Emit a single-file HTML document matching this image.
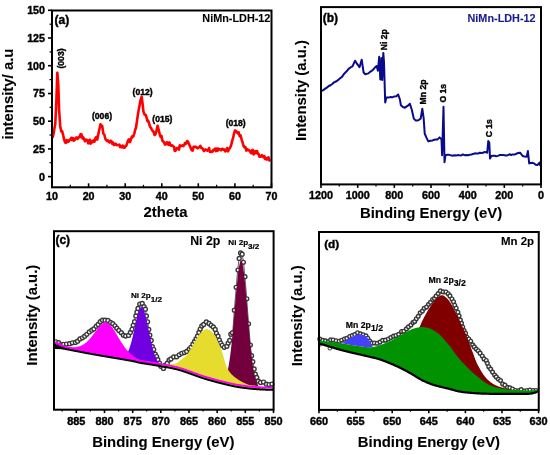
<!DOCTYPE html>
<html><head><meta charset="utf-8"><style>
html,body{margin:0;padding:0;background:#fff;}
svg{display:block;will-change:transform;}
text{font-family:"Liberation Sans",sans-serif;stroke:#000;stroke-width:0.4px;}
text.b{stroke:#1c1c8e;}
text.t{stroke-width:0.1px;}
text.s{stroke-width:0.2px;}
text.b.t{stroke:#1c1c8e;}
</style></head><body>
<svg width="550" height="455" viewBox="0 0 550 455">
<rect width="550" height="455" fill="#fff"/>
<path d="M52.50,137.90 L53.60,133.50 L54.45,128.39 L55.30,123.70 L56.40,100.00 L57.30,72.70 L58.30,85.00 L59.10,110.00 L60.20,125.90 L61.30,131.40 L62.10,131.14 L62.90,134.10 L64.00,139.00 L65.10,142.30 L65.92,142.84 L66.75,140.03 L67.58,142.02 L68.40,141.70 L69.45,139.98 L70.50,139.50 L71.33,137.74 L72.15,140.08 L72.97,138.20 L73.80,140.60 L74.75,139.89 L75.70,137.82 L76.65,137.52 L77.60,139.00 L78.60,137.02 L79.60,137.24 L80.60,134.10 L81.55,134.52 L82.50,138.40 L83.33,137.40 L84.15,139.54 L84.97,141.28 L85.80,139.50 L86.62,140.40 L87.45,140.12 L88.27,143.34 L89.10,141.70 L89.90,139.76 L90.70,143.65 L91.50,141.18 L92.30,142.30 L93.40,140.36 L94.50,141.70 L95.60,137.70 L96.45,136.89 L97.30,139.60 L98.10,135.27 L98.90,131.40 L100.50,124.30 L101.35,126.55 L102.20,125.90 L103.30,133.50 L104.35,134.78 L105.40,139.00 L106.23,140.05 L107.05,140.99 L107.88,140.44 L108.70,141.70 L109.60,142.44 L110.50,140.74 L111.40,141.25 L112.30,143.80 L113.18,142.65 L114.07,145.03 L114.95,144.07 L115.83,143.75 L116.72,145.19 L117.60,145.00 L118.45,145.03 L119.30,144.58 L120.15,147.10 L121.00,146.00 L121.90,147.34 L122.80,145.67 L123.70,147.62 L124.60,147.70 L125.45,146.04 L126.30,145.88 L127.15,143.43 L128.00,140.60 L129.00,139.26 L130.00,142.08 L131.00,139.50 L131.80,136.64 L132.60,136.92 L133.40,136.20 L134.27,133.61 L135.13,129.98 L136.00,127.50 L136.90,121.62 L137.80,115.21 L138.70,109.90 L139.50,105.65 L140.30,101.00 L141.70,96.70 L142.60,104.00 L143.40,111.60 L144.55,114.52 L145.70,115.00 L146.57,117.59 L147.45,121.23 L148.32,120.89 L149.20,124.00 L150.07,126.65 L150.95,127.93 L151.82,129.62 L152.70,131.00 L153.60,131.97 L154.50,134.90 L155.40,134.50 L156.50,130.63 L157.60,125.70 L158.70,130.07 L159.80,134.50 L160.68,137.01 L161.55,135.98 L162.43,140.68 L163.30,141.50 L164.18,142.61 L165.05,144.64 L165.93,144.29 L166.80,142.26 L167.68,143.16 L168.55,144.90 L169.43,142.37 L170.30,145.00 L171.20,145.76 L172.10,145.34 L173.00,146.04 L173.90,146.70 L174.80,150.90 L175.70,150.60 L176.53,148.21 L177.36,148.07 L178.19,148.04 L179.01,149.57 L179.84,145.24 L180.67,146.25 L181.50,145.80 L182.38,145.33 L183.25,146.16 L184.12,145.17 L185.00,143.00 L186.10,143.67 L187.20,141.00 L188.15,141.91 L189.10,144.46 L190.05,146.13 L191.00,148.70 L191.84,150.36 L192.69,150.58 L193.53,146.76 L194.38,146.77 L195.22,146.91 L196.07,146.81 L196.91,147.85 L197.76,148.22 L198.60,147.70 L199.47,146.82 L200.35,145.84 L201.22,147.95 L202.09,147.93 L202.96,149.05 L203.84,151.04 L204.71,150.04 L205.58,149.44 L206.45,150.12 L207.33,150.60 L208.20,150.00 L209.06,148.00 L209.93,151.95 L210.79,151.45 L211.65,151.94 L212.52,151.64 L213.38,149.83 L214.25,149.92 L215.11,148.61 L215.97,151.11 L216.84,148.53 L217.70,150.60 L218.54,148.71 L219.39,149.46 L220.23,149.35 L221.08,150.26 L221.92,149.04 L222.77,148.90 L223.61,149.70 L224.46,149.57 L225.30,151.50 L226.23,150.25 L227.15,148.07 L228.07,151.35 L229.00,149.00 L230.00,147.92 L231.00,145.80 L232.00,141.58 L233.00,138.20 L233.95,134.05 L234.90,130.50 L235.83,130.76 L236.77,131.81 L237.70,133.40 L238.67,132.30 L239.63,136.27 L240.60,135.30 L241.57,139.39 L242.53,142.26 L243.50,145.80 L244.43,147.33 L245.37,147.10 L246.30,150.60 L247.28,149.00 L248.25,150.33 L249.22,150.19 L250.20,151.50 L251.04,153.22 L251.89,150.36 L252.73,149.94 L253.58,154.42 L254.42,152.69 L255.27,151.14 L256.11,153.18 L256.96,151.01 L257.80,153.40 L258.61,154.09 L259.43,156.72 L260.24,156.74 L261.06,156.53 L261.87,155.09 L262.69,156.13 L263.50,157.30 L264.34,156.01 L265.18,159.03 L266.01,158.16 L266.85,159.53 L267.69,157.70 L268.52,157.45 L269.36,160.40 L270.20,159.20" fill="none" stroke="#ff0000" stroke-width="2.6" stroke-linejoin="round"/>
<rect x="52.0" y="10.5" width="219.5" height="176.8" fill="none" stroke="#000" stroke-width="2"/>
<line x1="48.0" y1="176.6" x2="52.0" y2="176.6" stroke="#000" stroke-width="1.6"/>
<text x="45" y="180.5" font-size="10.7" text-anchor="end" font-family="Liberation Sans, sans-serif" font-weight="bold">0</text>
<line x1="48.0" y1="148.9" x2="52.0" y2="148.9" stroke="#000" stroke-width="1.6"/>
<text x="45" y="152.8" font-size="10.7" text-anchor="end" font-family="Liberation Sans, sans-serif" font-weight="bold">25</text>
<line x1="48.0" y1="121.2" x2="52.0" y2="121.2" stroke="#000" stroke-width="1.6"/>
<text x="45" y="125.1" font-size="10.7" text-anchor="end" font-family="Liberation Sans, sans-serif" font-weight="bold">50</text>
<line x1="48.0" y1="93.5" x2="52.0" y2="93.5" stroke="#000" stroke-width="1.6"/>
<text x="45" y="97.4" font-size="10.7" text-anchor="end" font-family="Liberation Sans, sans-serif" font-weight="bold">75</text>
<line x1="48.0" y1="65.7" x2="52.0" y2="65.7" stroke="#000" stroke-width="1.6"/>
<text x="45" y="69.6" font-size="10.7" text-anchor="end" font-family="Liberation Sans, sans-serif" font-weight="bold">100</text>
<line x1="48.0" y1="38.0" x2="52.0" y2="38.0" stroke="#000" stroke-width="1.6"/>
<text x="45" y="41.9" font-size="10.7" text-anchor="end" font-family="Liberation Sans, sans-serif" font-weight="bold">125</text>
<line x1="48.0" y1="10.3" x2="52.0" y2="10.3" stroke="#000" stroke-width="1.6"/>
<text x="45" y="14.2" font-size="10.7" text-anchor="end" font-family="Liberation Sans, sans-serif" font-weight="bold">150</text>
<line x1="49.5" y1="162.7" x2="52.0" y2="162.7" stroke="#000" stroke-width="1.2"/>
<line x1="49.5" y1="135.0" x2="52.0" y2="135.0" stroke="#000" stroke-width="1.2"/>
<line x1="49.5" y1="107.3" x2="52.0" y2="107.3" stroke="#000" stroke-width="1.2"/>
<line x1="49.5" y1="79.6" x2="52.0" y2="79.6" stroke="#000" stroke-width="1.2"/>
<line x1="49.5" y1="51.9" x2="52.0" y2="51.9" stroke="#000" stroke-width="1.2"/>
<line x1="49.5" y1="24.2" x2="52.0" y2="24.2" stroke="#000" stroke-width="1.2"/>
<line x1="52.0" y1="187.3" x2="52.0" y2="183.3" stroke="#000" stroke-width="1.6"/>
<text x="52.0" y="200.4" font-size="10.7" text-anchor="middle" font-family="Liberation Sans, sans-serif" font-weight="bold">10</text>
<line x1="88.6" y1="187.3" x2="88.6" y2="183.3" stroke="#000" stroke-width="1.6"/>
<text x="88.6" y="200.4" font-size="10.7" text-anchor="middle" font-family="Liberation Sans, sans-serif" font-weight="bold">20</text>
<line x1="125.2" y1="187.3" x2="125.2" y2="183.3" stroke="#000" stroke-width="1.6"/>
<text x="125.2" y="200.4" font-size="10.7" text-anchor="middle" font-family="Liberation Sans, sans-serif" font-weight="bold">30</text>
<line x1="161.8" y1="187.3" x2="161.8" y2="183.3" stroke="#000" stroke-width="1.6"/>
<text x="161.8" y="200.4" font-size="10.7" text-anchor="middle" font-family="Liberation Sans, sans-serif" font-weight="bold">40</text>
<line x1="198.3" y1="187.3" x2="198.3" y2="183.3" stroke="#000" stroke-width="1.6"/>
<text x="198.3" y="200.4" font-size="10.7" text-anchor="middle" font-family="Liberation Sans, sans-serif" font-weight="bold">50</text>
<line x1="234.9" y1="187.3" x2="234.9" y2="183.3" stroke="#000" stroke-width="1.6"/>
<text x="234.9" y="200.4" font-size="10.7" text-anchor="middle" font-family="Liberation Sans, sans-serif" font-weight="bold">60</text>
<line x1="271.5" y1="187.3" x2="271.5" y2="183.3" stroke="#000" stroke-width="1.6"/>
<text x="271.5" y="200.4" font-size="10.7" text-anchor="middle" font-family="Liberation Sans, sans-serif" font-weight="bold">70</text>
<line x1="70.3" y1="187.3" x2="70.3" y2="184.8" stroke="#000" stroke-width="1.2"/>
<line x1="106.9" y1="187.3" x2="106.9" y2="184.8" stroke="#000" stroke-width="1.2"/>
<line x1="143.5" y1="187.3" x2="143.5" y2="184.8" stroke="#000" stroke-width="1.2"/>
<line x1="180.0" y1="187.3" x2="180.0" y2="184.8" stroke="#000" stroke-width="1.2"/>
<line x1="216.6" y1="187.3" x2="216.6" y2="184.8" stroke="#000" stroke-width="1.2"/>
<line x1="253.2" y1="187.3" x2="253.2" y2="184.8" stroke="#000" stroke-width="1.2"/>
<text x="165.5" y="216.9" font-size="14.9" class="t" text-anchor="middle" font-family="Liberation Sans, sans-serif" font-weight="bold">2theta</text>
<text transform="translate(13.2,94.1) rotate(-90)" font-size="14.9" class="t" text-anchor="middle" font-family="Liberation Sans, sans-serif" font-weight="bold">intensity/ a.u</text>
<text x="54.6" y="23.6" font-size="12" font-family="Liberation Sans, sans-serif" font-weight="bold">(a)</text>
<text x="270.4" y="21.7" font-size="10.85" text-anchor="end" class="t" font-family="Liberation Sans, sans-serif" font-weight="bold">NiMn-LDH-12</text>
<text transform="translate(64.3,58.5) rotate(-90)" font-size="8.6" text-anchor="middle" font-family="Liberation Sans, sans-serif" font-weight="bold">(003)</text>
<text x="102" y="118.6" font-size="8.6" text-anchor="middle" font-family="Liberation Sans, sans-serif" font-weight="bold">(006)</text>
<text x="142.6" y="94.6" font-size="8.6" text-anchor="middle" font-family="Liberation Sans, sans-serif" font-weight="bold">(012)</text>
<text x="162.4" y="121.8" font-size="8.6" text-anchor="middle" font-family="Liberation Sans, sans-serif" font-weight="bold">(015)</text>
<text x="235.7" y="126.3" font-size="8.6" text-anchor="middle" font-family="Liberation Sans, sans-serif" font-weight="bold">(018)</text>
<path d="M321.00,91.00 L322.95,90.33 L324.90,88.92 L326.85,87.62 L328.80,86.00 L330.56,85.26 L332.32,84.05 L334.08,82.31 L335.84,81.54 L337.60,80.40 L339.80,78.48 L342.00,76.90 L344.20,73.68 L346.40,71.60 L348.60,68.83 L350.80,67.20 L352.50,66.40 L355.10,60.70 L356.90,63.70 L359.50,67.20 L361.70,59.70 L363.60,72.50 L365.30,74.30 L368.30,73.40 L370.50,71.54 L372.70,70.20 L374.65,67.81 L376.60,66.00 L377.90,70.70 L379.20,56.80 L380.30,79.50 L381.50,58.00 L382.20,80.00 L383.30,52.90 L384.00,62.00 L385.20,102.40 L386.40,97.60 L388.35,97.58 L390.30,97.10 L392.33,97.35 L394.37,96.44 L396.40,96.20 L398.20,94.50 L400.00,99.80 L400.90,105.30 L402.90,107.02 L404.90,107.70 L407.90,105.70 L409.90,103.80 L411.80,109.70 L413.80,118.60 L415.80,120.60 L417.43,120.52 L419.07,119.81 L420.70,118.60 L422.30,108.70 L423.70,118.60 L424.70,133.50 L426.30,137.40 L428.30,141.40 L430.45,140.74 L432.60,140.40 L434.27,139.73 L435.93,139.41 L437.60,139.40 L439.60,137.40 L441.50,139.40 L442.10,155.20 L443.50,106.70 L444.50,162.20 L445.50,155.20 L447.28,154.84 L449.06,154.85 L450.84,155.35 L452.62,155.68 L454.40,155.20 L456.10,155.57 L457.80,155.09 L459.50,155.26 L461.20,155.39 L462.90,154.49 L464.60,155.14 L466.30,154.90 L468.00,155.16 L469.70,154.77 L471.40,154.50 L473.10,153.94 L474.80,153.35 L476.50,153.50 L478.14,153.53 L479.78,152.66 L481.42,152.90 L483.06,152.79 L484.70,151.90 L487.20,152.70 L488.30,140.90 L489.30,142.80 L490.00,158.50 L491.30,156.00 L492.95,155.78 L494.60,155.68 L496.25,156.24 L497.90,155.87 L499.55,155.10 L501.20,154.95 L502.85,154.88 L504.50,155.20 L506.14,155.53 L507.78,155.25 L509.42,154.30 L511.06,154.95 L512.70,154.40 L514.55,154.55 L516.40,153.74 L518.25,152.95 L520.10,152.70 L522.60,156.00 L524.65,156.46 L526.70,156.80 L527.90,151.10 L529.20,163.40 L530.83,162.96 L532.47,162.82 L534.10,163.40 L535.75,164.77 L537.40,165.00 L539.60,162.60 L540.40,165.90" fill="none" stroke="#0a0a8c" stroke-width="2.0" stroke-linejoin="round"/>
<rect x="321.0" y="7.1" width="220.0" height="177.3" fill="none" stroke="#000" stroke-width="2"/>
<line x1="541.0" y1="184.4" x2="541.0" y2="187.9" stroke="#000" stroke-width="1.6"/>
<text x="541.0" y="199.1" font-size="10.8" text-anchor="middle" font-family="Liberation Sans, sans-serif" font-weight="bold">0</text>
<line x1="504.3" y1="184.4" x2="504.3" y2="187.9" stroke="#000" stroke-width="1.6"/>
<text x="504.3" y="199.1" font-size="10.8" text-anchor="middle" font-family="Liberation Sans, sans-serif" font-weight="bold">200</text>
<line x1="467.7" y1="184.4" x2="467.7" y2="187.9" stroke="#000" stroke-width="1.6"/>
<text x="467.7" y="199.1" font-size="10.8" text-anchor="middle" font-family="Liberation Sans, sans-serif" font-weight="bold">400</text>
<line x1="431.0" y1="184.4" x2="431.0" y2="187.9" stroke="#000" stroke-width="1.6"/>
<text x="431.0" y="199.1" font-size="10.8" text-anchor="middle" font-family="Liberation Sans, sans-serif" font-weight="bold">600</text>
<line x1="394.3" y1="184.4" x2="394.3" y2="187.9" stroke="#000" stroke-width="1.6"/>
<text x="394.3" y="199.1" font-size="10.8" text-anchor="middle" font-family="Liberation Sans, sans-serif" font-weight="bold">800</text>
<line x1="357.7" y1="184.4" x2="357.7" y2="187.9" stroke="#000" stroke-width="1.6"/>
<text x="357.7" y="199.1" font-size="10.8" text-anchor="middle" font-family="Liberation Sans, sans-serif" font-weight="bold">1000</text>
<line x1="321.0" y1="184.4" x2="321.0" y2="187.9" stroke="#000" stroke-width="1.6"/>
<text x="321.0" y="199.1" font-size="10.8" text-anchor="middle" font-family="Liberation Sans, sans-serif" font-weight="bold">1200</text>
<line x1="522.7" y1="184.4" x2="522.7" y2="186.4" stroke="#000" stroke-width="1.2"/>
<line x1="486.0" y1="184.4" x2="486.0" y2="186.4" stroke="#000" stroke-width="1.2"/>
<line x1="449.3" y1="184.4" x2="449.3" y2="186.4" stroke="#000" stroke-width="1.2"/>
<line x1="412.7" y1="184.4" x2="412.7" y2="186.4" stroke="#000" stroke-width="1.2"/>
<line x1="376.0" y1="184.4" x2="376.0" y2="186.4" stroke="#000" stroke-width="1.2"/>
<line x1="339.3" y1="184.4" x2="339.3" y2="186.4" stroke="#000" stroke-width="1.2"/>
<text x="431.1" y="217.5" font-size="14.9" class="t" text-anchor="middle" font-family="Liberation Sans, sans-serif" font-weight="bold">Binding Energy (eV)</text>
<text transform="translate(305.8,90.6) rotate(-90)" font-size="14.9" class="t" text-anchor="middle" font-family="Liberation Sans, sans-serif" font-weight="bold">Intensity (a.u.)</text>
<text x="322.7" y="21.6" font-size="12" font-family="Liberation Sans, sans-serif" font-weight="bold">(b)</text>
<text x="535.6" y="22" font-size="10.85" text-anchor="end" fill="#1c1c8e" class="b t" font-family="Liberation Sans, sans-serif" font-weight="bold">NiMn-LDH-12</text>
<text transform="translate(387.2,39.8) rotate(-90)" font-size="8.6" text-anchor="middle" font-family="Liberation Sans, sans-serif" font-weight="bold">Ni 2p</text>
<text transform="translate(426.0,92) rotate(-90)" font-size="8.6" text-anchor="middle" font-family="Liberation Sans, sans-serif" font-weight="bold">Mn 2p</text>
<text transform="translate(445.5,93.2) rotate(-90)" font-size="8.6" text-anchor="middle" font-family="Liberation Sans, sans-serif" font-weight="bold">O 1s</text>
<text transform="translate(491.9,128.2) rotate(-90)" font-size="8.6" text-anchor="middle" font-family="Liberation Sans, sans-serif" font-weight="bold">C 1s</text>
<path d="M55.80,341.80 L56.19,341.92 L56.73,342.09 L57.37,342.30 L58.06,342.56 L58.64,342.81 L59.13,343.09 L59.64,343.41 L60.17,343.74 L60.73,344.05 L61.30,344.31 L61.90,344.50 L62.45,344.60 L63.02,344.65 L63.61,344.67 L64.22,344.66 L64.84,344.63 L65.48,344.58 L66.13,344.52 L66.73,344.46 L67.32,344.38 L67.93,344.30 L68.56,344.20 L69.19,344.09 L69.81,343.97 L70.43,343.85 L71.03,343.73 L71.60,343.60 L72.24,343.46 L72.86,343.33 L73.47,343.19 L74.06,343.04 L74.63,342.87 L75.19,342.68 L75.73,342.44 L76.26,342.15 L76.76,341.79 L77.23,341.39 L77.69,340.95 L78.14,340.50 L78.59,340.07 L79.04,339.66 L79.50,339.30 L80.04,338.95 L80.58,338.66 L81.12,338.39 L81.65,338.13 L82.19,337.86 L82.73,337.57 L83.24,337.24 L83.72,336.91 L84.21,336.55 L84.69,336.18 L85.17,335.81 L85.66,335.44 L86.14,335.07 L86.63,334.71 L87.14,334.35 L87.65,333.99 L88.17,333.64 L88.68,333.28 L89.18,332.93 L89.66,332.57 L90.13,332.19 L90.60,331.78 L91.04,331.36 L91.45,330.94 L91.88,330.51 L92.33,330.05 L92.80,329.61 L93.22,329.22 L93.66,328.83 L94.11,328.43 L94.57,328.01 L95.04,327.59 L95.51,327.16 L95.97,326.72 L96.41,326.29 L96.84,325.84 L97.26,325.38 L97.68,324.91 L98.11,324.44 L98.53,323.97 L98.96,323.52 L99.38,323.10 L99.82,322.69 L100.30,322.26 L100.79,321.84 L101.27,321.43 L101.75,321.06 L102.23,320.72 L102.72,320.43 L103.20,320.20 L103.80,319.98 L104.41,319.84 L105.01,319.76 L105.61,319.76 L106.23,319.81 L106.83,319.93 L107.37,320.10 L107.92,320.32 L108.47,320.59 L109.03,320.89 L109.58,321.22 L110.11,321.55 L110.63,321.88 L111.11,322.20 L111.58,322.53 L112.03,322.87 L112.48,323.24 L112.94,323.64 L113.42,324.11 L113.89,324.59 L114.24,325.01 L114.62,325.47 L115.00,325.97 L115.39,326.49 L115.78,327.03 L116.17,327.56 L116.55,328.08 L116.93,328.57 L117.28,329.02 L117.62,329.41 L118.10,329.91 L118.60,330.36 L119.06,330.71 L119.50,331.03 L119.94,331.34 L120.38,331.70 L120.84,332.11 L121.30,332.56 L121.76,333.03 L122.22,333.49 L122.66,333.93 L123.09,334.32 L123.58,334.73 L124.09,335.18 L124.58,335.57 L125.08,335.86 L125.60,336.00 L126.16,335.97 L126.75,335.78 L127.34,335.50 L127.92,335.17 L128.44,334.85 L128.92,334.55 L129.38,334.22 L129.83,333.82 L130.28,333.31 L130.63,332.80 L130.90,332.37 L131.16,331.90 L131.42,331.40 L131.68,330.86 L131.93,330.28 L132.18,329.66 L132.42,329.01 L132.64,328.38 L132.80,327.87 L132.96,327.33 L133.11,326.77 L133.27,326.18 L133.42,325.57 L133.57,324.96 L133.72,324.34 L133.86,323.72 L134.01,323.11 L134.15,322.51 L134.29,321.92 L134.44,321.35 L134.60,320.73 L134.75,320.12 L134.90,319.52 L135.05,318.93 L135.19,318.34 L135.34,317.75 L135.49,317.17 L135.63,316.60 L135.78,316.04 L135.93,315.48 L136.08,314.89 L136.25,314.27 L136.42,313.65 L136.59,313.04 L136.76,312.44 L136.93,311.85 L137.09,311.27 L137.26,310.70 L137.43,310.14 L137.60,309.60 L137.80,308.96 L137.99,308.31 L138.17,307.67 L138.36,307.05 L138.56,306.46 L138.76,305.92 L138.97,305.42 L139.20,305.00 L139.65,304.38 L140.14,303.91 L140.65,303.59 L141.16,303.42 L141.66,303.43 L142.17,303.64 L142.68,304.02 L143.17,304.54 L143.57,305.10 L143.82,305.53 L144.05,306.01 L144.27,306.53 L144.49,307.11 L144.69,307.74 L144.90,308.43 L145.06,309.04 L145.19,309.55 L145.31,310.09 L145.43,310.65 L145.55,311.23 L145.67,311.84 L145.79,312.46 L145.91,313.09 L146.02,313.74 L146.15,314.39 L146.27,315.04 L146.38,315.62 L146.49,316.18 L146.60,316.76 L146.70,317.34 L146.81,317.94 L146.92,318.54 L147.04,319.15 L147.15,319.76 L147.26,320.37 L147.37,320.98 L147.48,321.59 L147.59,322.20 L147.70,322.80 L147.81,323.39 L147.91,323.98 L148.02,324.57 L148.13,325.17 L148.23,325.76 L148.34,326.36 L148.45,326.95 L148.55,327.55 L148.66,328.14 L148.77,328.73 L148.88,329.33 L148.99,329.91 L149.10,330.50 L149.22,331.11 L149.33,331.71 L149.45,332.31 L149.57,332.91 L149.69,333.50 L149.81,334.10 L149.93,334.70 L150.05,335.29 L150.17,335.89 L150.29,336.49 L150.41,337.09 L150.54,337.70 L150.66,338.29 L150.78,338.89 L150.89,339.48 L151.01,340.09 L151.12,340.69 L151.23,341.30 L151.35,341.91 L151.47,342.51 L151.59,343.11 L151.72,343.70 L151.85,344.29 L151.98,344.86 L152.13,345.42 L152.29,346.01 L152.46,346.62 L152.65,347.22 L152.84,347.81 L153.04,348.39 L153.24,348.96 L153.45,349.52 L153.66,350.08 L153.87,350.64 L154.08,351.20 L154.29,351.75 L154.50,352.30 L154.72,352.89 L154.95,353.48 L155.18,354.06 L155.42,354.64 L155.65,355.22 L155.88,355.79 L156.12,356.35 L156.36,356.91 L156.59,357.46 L156.83,358.00 L157.06,358.55 L157.32,359.13 L157.59,359.71 L157.85,360.29 L158.11,360.86 L158.37,361.42 L158.63,361.96 L158.89,362.49 L159.14,362.99 L159.38,363.47 L159.67,364.02 L159.99,364.66 L160.29,365.26 L160.59,365.82 L160.89,366.33 L161.20,366.77 L161.52,367.12 L162.02,367.53 L162.60,367.83 L163.20,367.91 L163.84,367.70 L164.24,367.40 L164.56,367.04 L164.89,366.59 L165.23,366.07 L165.57,365.51 L165.93,364.93 L166.31,364.34 L166.70,363.77 L167.07,363.27 L167.43,362.80 L167.81,362.29 L168.20,361.77 L168.59,361.25 L169.00,360.73 L169.40,360.23 L169.81,359.76 L170.21,359.34 L170.61,358.96 L171.08,358.59 L171.65,358.25 L172.21,358.01 L172.77,357.83 L173.33,357.68 L173.89,357.53 L174.46,357.35 L175.03,357.14 L175.59,356.94 L176.15,356.74 L176.71,356.54 L177.29,356.33 L177.88,356.08 L178.50,355.80 L179.00,355.55 L179.52,355.27 L180.06,354.97 L180.60,354.65 L181.15,354.33 L181.69,354.01 L182.22,353.70 L182.73,353.41 L183.25,353.12 L183.83,352.83 L184.38,352.57 L184.91,352.32 L185.44,352.07 L185.96,351.80 L186.49,351.48 L187.01,351.12 L187.45,350.78 L187.90,350.43 L188.35,350.05 L188.79,349.66 L189.24,349.24 L189.69,348.80 L190.14,348.34 L190.58,347.85 L190.98,347.39 L191.34,346.96 L191.71,346.51 L192.07,346.05 L192.43,345.58 L192.80,345.09 L193.15,344.58 L193.51,344.07 L193.85,343.54 L194.19,342.99 L194.52,342.44 L194.81,341.92 L195.08,341.41 L195.34,340.88 L195.60,340.34 L195.85,339.78 L196.10,339.22 L196.35,338.65 L196.59,338.08 L196.83,337.50 L197.08,336.93 L197.33,336.35 L197.57,335.78 L197.82,335.23 L198.07,334.67 L198.31,334.10 L198.55,333.52 L198.80,332.94 L199.04,332.35 L199.29,331.77 L199.53,331.20 L199.77,330.64 L200.02,330.10 L200.26,329.58 L200.50,329.08 L200.74,328.61 L201.07,328.01 L201.41,327.40 L201.75,326.83 L202.08,326.29 L202.42,325.79 L202.77,325.33 L203.13,324.89 L203.50,324.49 L203.92,324.09 L204.42,323.66 L204.95,323.25 L205.49,322.88 L206.05,322.57 L206.61,322.34 L207.16,322.21 L207.70,322.20 L208.20,322.32 L208.71,322.56 L209.21,322.89 L209.71,323.29 L210.21,323.74 L210.69,324.21 L211.16,324.67 L211.61,325.10 L212.03,325.52 L212.45,325.95 L212.85,326.39 L213.24,326.85 L213.62,327.34 L213.99,327.84 L214.34,328.38 L214.67,328.92 L214.93,329.41 L215.19,329.94 L215.43,330.48 L215.66,331.04 L215.88,331.62 L216.11,332.20 L216.33,332.78 L216.55,333.35 L216.78,333.92 L217.02,334.48 L217.25,335.03 L217.49,335.58 L217.73,336.14 L217.96,336.69 L218.20,337.25 L218.43,337.80 L218.67,338.35 L218.91,338.91 L219.14,339.46 L219.37,340.02 L219.60,340.60 L219.83,341.19 L220.05,341.78 L220.27,342.37 L220.50,342.95 L220.73,343.51 L220.98,344.04 L221.23,344.54 L221.50,345.00 L221.89,345.58 L222.32,346.15 L222.77,346.68 L223.22,347.16 L223.67,347.56 L224.10,347.87 L224.51,348.07 L225.03,348.15 L225.55,347.99 L226.04,347.61 L226.53,347.04 L226.96,346.41 L227.21,346.00 L227.46,345.53 L227.71,345.01 L227.97,344.46 L228.22,343.87 L228.46,343.26 L228.70,342.63 L228.93,341.99 L229.15,341.36 L229.33,340.78 L229.49,340.18 L229.64,339.53 L229.78,338.86 L229.92,338.17 L230.05,337.49 L230.19,336.83 L230.32,336.21 L230.45,335.63 L230.59,335.12 L230.73,334.68 L231.08,334.21 L231.66,334.74 L232.23,334.65 L232.53,333.40 L232.58,333.05 L232.63,332.67 L232.68,332.25 L232.74,331.80 L232.79,331.32 L232.84,330.82 L232.89,330.28 L232.94,329.73 L232.99,329.16 L233.04,328.56 L233.09,327.95 L233.14,327.32 L233.19,326.67 L233.24,326.02 L233.29,325.35 L233.34,324.67 L233.39,323.99 L233.43,323.30 L233.48,322.60 L233.53,321.90 L233.58,321.21 L233.63,320.51 L233.68,319.82 L233.73,319.13 L233.78,318.45 L233.83,317.78 L233.88,317.12 L233.93,316.47 L233.98,315.83 L234.02,315.23 L234.07,314.64 L234.12,314.05 L234.16,313.46 L234.21,312.87 L234.26,312.28 L234.30,311.68 L234.35,311.08 L234.40,310.48 L234.45,309.87 L234.49,309.27 L234.54,308.66 L234.59,308.06 L234.63,307.45 L234.68,306.84 L234.73,306.24 L234.77,305.63 L234.82,305.02 L234.87,304.41 L234.91,303.80 L234.96,303.20 L235.01,302.59 L235.05,301.99 L235.10,301.38 L235.15,300.78 L235.20,300.18 L235.24,299.58 L235.29,298.99 L235.34,298.39 L235.38,297.80 L235.43,297.21 L235.48,296.62 L235.52,296.02 L235.57,295.40 L235.62,294.78 L235.67,294.16 L235.72,293.54 L235.77,292.92 L235.82,292.30 L235.87,291.68 L235.92,291.05 L235.97,290.43 L236.02,289.81 L236.07,289.19 L236.12,288.58 L236.17,287.96 L236.22,287.35 L236.27,286.74 L236.32,286.13 L236.37,285.53 L236.42,284.92 L236.47,284.32 L236.52,283.73 L236.57,283.14 L236.62,282.55 L236.67,281.97 L236.71,281.39 L236.76,280.82 L236.81,280.25 L236.86,279.69 L236.91,279.13 L236.96,278.58 L237.02,278.01 L237.08,277.34 L237.14,276.67 L237.20,276.01 L237.26,275.35 L237.32,274.70 L237.38,274.05 L237.44,273.40 L237.51,272.77 L237.57,272.13 L237.63,271.50 L237.69,270.88 L237.75,270.27 L237.81,269.67 L237.87,269.07 L237.93,268.48 L237.99,267.90 L238.06,267.33 L238.12,266.77 L238.18,266.22 L238.24,265.69 L238.30,265.16 L238.36,264.65 L238.42,264.14 L238.48,263.65 L238.58,262.94 L238.68,262.17 L238.79,261.43 L238.89,260.71 L239.00,260.01 L239.10,259.34 L239.21,258.70 L239.31,258.09 L239.42,257.50 L239.52,256.95 L239.62,256.43 L239.72,255.94 L239.82,255.49 L239.91,255.07 L240.00,254.68 L240.34,253.51 L240.65,252.93 L240.95,252.77 L241.24,252.82 L241.50,253.08 L241.77,253.61 L242.05,254.48 L242.25,255.26 L242.34,255.67 L242.43,256.10 L242.52,256.57 L242.62,257.06 L242.72,257.59 L242.81,258.15 L242.91,258.75 L243.01,259.39 L243.11,260.06 L243.21,260.77 L243.32,261.53 L243.42,262.33 L243.51,263.08 L243.57,263.55 L243.63,264.04 L243.69,264.54 L243.75,265.05 L243.81,265.58 L243.86,266.13 L243.92,266.68 L243.99,267.25 L244.05,267.83 L244.11,268.42 L244.17,269.02 L244.23,269.63 L244.29,270.25 L244.35,270.87 L244.42,271.51 L244.48,272.15 L244.54,272.80 L244.60,273.45 L244.66,274.11 L244.72,274.77 L244.79,275.44 L244.85,276.11 L244.91,276.78 L244.97,277.46 L245.02,278.07 L245.07,278.61 L245.12,279.16 L245.17,279.72 L245.22,280.28 L245.26,280.84 L245.31,281.42 L245.36,281.99 L245.41,282.58 L245.46,283.16 L245.50,283.75 L245.55,284.35 L245.60,284.95 L245.65,285.55 L245.70,286.15 L245.74,286.76 L245.79,287.37 L245.84,287.98 L245.89,288.60 L245.94,289.21 L245.98,289.83 L246.03,290.45 L246.08,291.07 L246.13,291.70 L246.18,292.32 L246.22,292.94 L246.27,293.56 L246.32,294.19 L246.37,294.81 L246.42,295.43 L246.46,296.05 L246.51,296.66 L246.56,297.25 L246.60,297.83 L246.65,298.42 L246.69,299.02 L246.74,299.61 L246.78,300.21 L246.83,300.81 L246.87,301.41 L246.92,302.01 L246.96,302.62 L247.01,303.22 L247.05,303.83 L247.10,304.44 L247.14,305.04 L247.19,305.65 L247.23,306.26 L247.28,306.87 L247.32,307.48 L247.37,308.09 L247.41,308.70 L247.46,309.31 L247.50,309.92 L247.55,310.52 L247.59,311.13 L247.64,311.73 L247.68,312.33 L247.73,312.93 L247.77,313.53 L247.82,314.13 L247.86,314.72 L247.91,315.32 L247.95,315.91 L248.00,316.49 L248.05,317.11 L248.10,317.73 L248.14,318.35 L248.19,318.96 L248.24,319.58 L248.29,320.20 L248.33,320.82 L248.38,321.44 L248.43,322.05 L248.48,322.67 L248.52,323.28 L248.57,323.90 L248.62,324.51 L248.67,325.12 L248.71,325.73 L248.76,326.34 L248.81,326.94 L248.86,327.55 L248.90,328.15 L248.95,328.75 L249.00,329.34 L249.05,329.94 L249.10,330.53 L249.14,331.11 L249.19,331.70 L249.24,332.28 L249.29,332.86 L249.33,333.43 L249.38,334.00 L249.43,334.57 L249.48,335.13 L249.53,335.74 L249.58,336.39 L249.64,337.05 L249.69,337.70 L249.75,338.36 L249.80,339.01 L249.85,339.66 L249.91,340.31 L249.96,340.96 L250.02,341.61 L250.07,342.25 L250.12,342.88 L250.18,343.52 L250.23,344.14 L250.29,344.76 L250.34,345.37 L250.39,345.97 L250.45,346.57 L250.51,347.15 L250.56,347.73 L250.62,348.30 L250.68,348.85 L250.73,349.39 L250.79,349.92 L250.85,350.44 L250.91,350.94 L250.97,351.43 L251.05,352.07 L251.16,352.83 L251.27,353.54 L251.38,354.21 L251.50,354.84 L251.61,355.43 L251.73,356.00 L251.84,356.56 L251.96,357.09 L252.08,357.61 L252.20,358.13 L252.31,358.65 L252.43,359.18 L252.55,359.72 L252.66,360.27 L252.77,360.85 L252.88,361.44 L252.99,362.05 L253.09,362.65 L253.20,363.27 L253.30,363.89 L253.41,364.50 L253.51,365.12 L253.61,365.74 L253.71,366.36 L253.82,366.96 L253.92,367.56 L254.03,368.15 L254.14,368.73 L254.25,369.29 L254.36,369.84 L254.47,370.37 L254.61,371.01 L254.76,371.68 L254.91,372.33 L255.05,372.96 L255.20,373.58 L255.35,374.18 L255.51,374.76 L255.67,375.32 L255.84,375.87 L256.03,376.39 L256.23,376.90 L256.44,377.38 L256.74,377.96 L257.07,378.55 L257.42,379.11 L257.79,379.63 L258.17,380.13 L258.58,380.58 L259.00,381.00 L259.43,381.38 L259.89,381.72 L260.39,382.03 L260.94,382.28 L261.51,382.46 L262.11,382.60 L262.72,382.71 L263.33,382.81 L263.93,382.91 L264.51,383.03 L265.10,383.18 L265.71,383.35 L266.32,383.52 L266.92,383.69 L267.51,383.85 L268.09,384.01 L268.65,384.15 L269.17,384.27 L269.84,384.41 L270.55,384.53 L271.23,384.62 L271.84,384.70 L272.33,384.76 L272.60,384.80" fill="none" stroke="#383838" stroke-width="1"/><g fill="#fff" stroke="#383838" stroke-width="1.4"><circle cx="55.86" cy="341.84" r="1.95"/><circle cx="58.69" cy="342.65" r="1.95"/><circle cx="61.16" cy="344.71" r="1.95"/><circle cx="63.65" cy="344.28" r="1.95"/><circle cx="66.50" cy="344.06" r="1.95"/><circle cx="69.54" cy="343.65" r="1.95"/><circle cx="72.36" cy="342.84" r="1.95"/><circle cx="75.36" cy="342.44" r="1.95"/><circle cx="77.56" cy="341.19" r="1.95"/><circle cx="79.93" cy="338.99" r="1.95"/><circle cx="82.49" cy="337.80" r="1.95"/><circle cx="84.70" cy="336.22" r="1.95"/><circle cx="86.81" cy="334.34" r="1.95"/><circle cx="89.30" cy="331.96" r="1.95"/><circle cx="91.78" cy="330.20" r="1.95"/><circle cx="93.87" cy="328.99" r="1.95"/><circle cx="96.11" cy="326.33" r="1.95"/><circle cx="98.12" cy="324.52" r="1.95"/><circle cx="100.30" cy="321.74" r="1.95"/><circle cx="102.50" cy="320.17" r="1.95"/><circle cx="105.07" cy="320.19" r="1.95"/><circle cx="107.92" cy="320.42" r="1.95"/><circle cx="110.60" cy="322.46" r="1.95"/><circle cx="112.81" cy="323.72" r="1.95"/><circle cx="114.90" cy="325.86" r="1.95"/><circle cx="116.82" cy="328.25" r="1.95"/><circle cx="118.84" cy="330.51" r="1.95"/><circle cx="121.36" cy="332.77" r="1.95"/><circle cx="123.45" cy="335.21" r="1.95"/><circle cx="125.64" cy="336.10" r="1.95"/><circle cx="128.50" cy="335.47" r="1.95"/><circle cx="130.35" cy="332.39" r="1.95"/><circle cx="132.03" cy="329.29" r="1.95"/><circle cx="133.20" cy="325.34" r="1.95"/><circle cx="134.55" cy="321.65" r="1.95"/><circle cx="135.83" cy="315.91" r="1.95"/><circle cx="136.97" cy="312.25" r="1.95"/><circle cx="137.98" cy="308.44" r="1.95"/><circle cx="139.72" cy="304.07" r="1.95"/><circle cx="142.22" cy="303.41" r="1.95"/><circle cx="143.99" cy="306.67" r="1.95"/><circle cx="145.39" cy="309.27" r="1.95"/><circle cx="146.41" cy="315.92" r="1.95"/><circle cx="147.55" cy="321.86" r="1.95"/><circle cx="148.75" cy="329.39" r="1.95"/><circle cx="149.83" cy="335.23" r="1.95"/><circle cx="151.18" cy="340.38" r="1.95"/><circle cx="152.35" cy="346.67" r="1.95"/><circle cx="153.72" cy="349.53" r="1.95"/><circle cx="155.26" cy="354.23" r="1.95"/><circle cx="156.66" cy="356.55" r="1.95"/><circle cx="157.82" cy="359.70" r="1.95"/><circle cx="159.49" cy="363.10" r="1.95"/><circle cx="160.82" cy="366.32" r="1.95"/><circle cx="163.52" cy="368.40" r="1.95"/><circle cx="165.30" cy="365.24" r="1.95"/><circle cx="167.33" cy="363.27" r="1.95"/><circle cx="169.08" cy="360.07" r="1.95"/><circle cx="170.91" cy="358.89" r="1.95"/><circle cx="173.72" cy="356.89" r="1.95"/><circle cx="176.60" cy="356.86" r="1.95"/><circle cx="179.25" cy="354.82" r="1.95"/><circle cx="181.83" cy="353.32" r="1.95"/><circle cx="184.39" cy="352.56" r="1.95"/><circle cx="186.70" cy="351.38" r="1.95"/><circle cx="189.19" cy="349.08" r="1.95"/><circle cx="190.92" cy="347.33" r="1.95"/><circle cx="192.87" cy="344.21" r="1.95"/><circle cx="194.53" cy="341.46" r="1.95"/><circle cx="196.04" cy="338.78" r="1.95"/><circle cx="197.50" cy="336.20" r="1.95"/><circle cx="198.90" cy="332.50" r="1.95"/><circle cx="200.25" cy="329.08" r="1.95"/><circle cx="201.80" cy="326.02" r="1.95"/><circle cx="203.73" cy="324.46" r="1.95"/><circle cx="206.35" cy="321.95" r="1.95"/><circle cx="209.07" cy="323.49" r="1.95"/><circle cx="211.12" cy="325.29" r="1.95"/><circle cx="213.31" cy="326.96" r="1.95"/><circle cx="215.20" cy="329.50" r="1.95"/><circle cx="216.44" cy="333.37" r="1.95"/><circle cx="218.04" cy="336.16" r="1.95"/><circle cx="219.39" cy="340.07" r="1.95"/><circle cx="220.67" cy="343.08" r="1.95"/><circle cx="222.15" cy="345.30" r="1.95"/><circle cx="224.26" cy="347.34" r="1.95"/><circle cx="226.87" cy="346.30" r="1.95"/><circle cx="228.15" cy="343.06" r="1.95"/><circle cx="229.70" cy="340.45" r="1.95"/><circle cx="230.83" cy="334.24" r="1.95"/><circle cx="232.49" cy="332.63" r="1.95"/><circle cx="234.36" cy="310.23" r="1.95"/><circle cx="236.17" cy="287.28" r="1.95"/><circle cx="238.03" cy="270.12" r="1.95"/><circle cx="239.20" cy="258.45" r="1.95"/><circle cx="240.61" cy="253.01" r="1.95"/><circle cx="242.14" cy="254.26" r="1.95"/><circle cx="243.37" cy="262.29" r="1.95"/><circle cx="244.94" cy="276.64" r="1.95"/><circle cx="246.74" cy="298.82" r="1.95"/><circle cx="248.52" cy="323.85" r="1.95"/><circle cx="250.34" cy="345.09" r="1.95"/><circle cx="251.54" cy="355.69" r="1.95"/><circle cx="252.80" cy="361.73" r="1.95"/><circle cx="254.12" cy="368.99" r="1.95"/><circle cx="255.34" cy="374.23" r="1.95"/><circle cx="256.73" cy="377.48" r="1.95"/><circle cx="258.30" cy="381.13" r="1.95"/><circle cx="260.52" cy="382.52" r="1.95"/><circle cx="263.53" cy="382.10" r="1.95"/><circle cx="266.45" cy="384.15" r="1.95"/><circle cx="269.10" cy="384.62" r="1.95"/><circle cx="271.96" cy="384.12" r="1.95"/></g>
<path d="M115.00,357.78 L115.50,357.85 L116.00,357.92 L116.50,357.99 L117.00,358.05 L117.50,358.10 L118.00,358.15 L118.50,358.18 L119.00,358.21 L119.50,358.22 L120.00,358.21 L120.50,358.18 L121.00,358.13 L121.50,358.05 L122.00,357.94 L122.50,357.80 L123.00,357.61 L123.50,357.37 L124.00,357.07 L124.50,356.71 L125.00,356.28 L125.50,355.78 L126.00,355.19 L126.50,354.51 L127.00,353.73 L127.50,352.84 L128.00,351.84 L128.50,350.72 L129.00,349.48 L129.50,348.11 L130.00,346.62 L130.50,345.01 L131.00,343.27 L131.50,341.42 L132.00,339.45 L132.50,337.39 L133.00,335.24 L133.50,333.03 L134.00,330.76 L134.50,328.47 L135.00,326.17 L135.50,323.90 L136.00,321.68 L136.50,319.54 L137.00,317.50 L137.50,315.57 L138.00,313.78 L138.50,312.15 L139.00,310.71 L139.50,309.50 L140.00,308.53 L140.50,307.81 L141.00,307.36 L141.50,307.19 L142.00,307.30 L142.50,307.69 L143.00,308.36 L143.50,309.30 L144.00,310.49 L144.50,311.93 L145.00,313.58 L145.50,315.43 L146.00,317.45 L146.50,319.62 L147.00,321.90 L147.50,324.28 L148.00,326.72 L148.50,329.20 L149.00,331.69 L149.50,334.16 L150.00,336.59 L150.50,338.97 L151.00,341.28 L151.50,343.50 L152.00,345.61 L152.50,347.61 L153.00,349.49 L153.50,351.26 L154.00,352.89 L154.50,354.40 L155.00,355.78 L155.50,357.05 L156.00,358.19 L156.50,359.23 L157.00,360.16 L157.50,361.00 L158.00,361.74 L158.50,362.40 L159.00,362.99 L159.50,363.51 L160.00,363.97 L160.50,364.38 L161.00,364.74 L161.50,365.05 L162.00,365.33 L162.50,365.58 L163.00,365.80 L163.50,365.99 L164.00,366.17 L164.50,366.33 L165.00,366.48 L165.50,366.61 L166.00,366.74 L166.50,366.86 L167.00,366.98 L167.50,367.09 L168.00,367.19 L168.50,367.30 L169.00,367.40 L169.50,367.51 L170.00,367.61 L170.00,367.62 L169.00,367.43 L168.00,367.24 L167.00,367.06 L166.00,366.88 L165.00,366.70 L164.00,366.52 L163.00,366.34 L162.00,366.16 L161.00,365.98 L160.00,365.80 L159.00,365.62 L158.00,365.44 L157.00,365.27 L156.00,365.11 L155.00,364.94 L154.00,364.78 L153.00,364.63 L152.00,364.47 L151.00,364.32 L150.00,364.17 L149.00,364.02 L148.00,363.87 L147.00,363.72 L146.00,363.57 L145.00,363.41 L144.00,363.26 L143.00,363.10 L142.00,362.94 L141.00,362.77 L140.00,362.60 L139.00,362.41 L138.00,362.21 L137.00,361.96 L136.00,361.66 L135.00,361.40 L134.00,361.18 L133.00,360.97 L132.00,360.77 L131.00,360.58 L130.00,360.40 L129.00,360.22 L128.00,360.04 L127.00,359.87 L126.00,359.69 L125.00,359.52 L124.00,359.35 L123.00,359.18 L122.00,359.01 L121.00,358.83 L120.00,358.67 L119.00,358.50 L118.00,358.33 L117.00,358.16 L116.00,357.99 L115.00,357.82Z" fill="#7000e0"/>
<path d="M215.00,381.42 L215.50,381.54 L216.00,381.66 L216.50,381.77 L217.00,381.87 L217.50,381.97 L218.00,382.05 L218.50,382.12 L219.00,382.18 L219.50,382.21 L220.00,382.21 L220.50,382.17 L221.00,382.10 L221.50,381.98 L222.00,381.79 L222.50,381.54 L223.00,381.19 L223.50,380.75 L224.00,380.20 L224.50,379.50 L225.00,378.66 L225.50,377.63 L226.00,376.42 L226.50,374.98 L227.00,373.30 L227.50,371.36 L228.00,369.13 L228.50,366.60 L229.00,363.74 L229.50,360.56 L230.00,357.03 L230.50,353.15 L231.00,348.93 L231.50,344.38 L232.00,339.51 L232.50,334.36 L233.00,328.95 L233.50,323.33 L234.00,317.55 L234.50,311.68 L235.00,305.77 L235.50,299.91 L236.00,294.17 L236.50,288.63 L237.00,283.38 L237.50,278.50 L238.00,274.06 L238.50,270.15 L239.00,266.83 L239.50,264.17 L240.00,262.20 L240.50,260.97 L241.00,260.50 L241.50,260.80 L242.00,261.87 L242.50,263.69 L243.00,266.22 L243.50,269.43 L244.00,273.26 L244.50,277.64 L245.00,282.51 L245.50,287.77 L246.00,293.36 L246.50,299.19 L247.00,305.17 L247.50,311.22 L248.00,317.27 L248.50,323.25 L249.00,329.10 L249.50,334.76 L250.00,340.18 L250.50,345.32 L251.00,350.16 L251.50,354.68 L252.00,358.85 L252.50,362.68 L253.00,366.17 L253.50,369.31 L254.00,372.13 L254.50,374.64 L255.00,376.85 L255.50,378.79 L256.00,380.48 L256.50,381.95 L257.00,383.20 L257.50,384.28 L258.00,385.19 L258.50,385.95 L259.00,386.60 L259.50,387.13 L260.00,387.58 L260.50,387.95 L261.00,388.25 L261.50,388.50 L262.00,388.70 L262.50,388.86 L263.00,388.99 L263.50,389.10 L264.00,389.18 L264.50,389.25 L265.00,389.30 L265.50,389.35 L266.00,389.39 L266.50,389.42 L267.00,389.44 L267.50,389.46 L268.00,389.48 L268.00,389.50 L267.00,389.48 L266.00,389.45 L265.00,389.42 L264.00,389.39 L263.00,389.35 L262.00,389.31 L261.00,389.26 L260.00,389.20 L259.00,389.13 L258.00,389.07 L257.00,388.99 L256.00,388.92 L255.00,388.84 L254.00,388.76 L253.00,388.67 L252.00,388.58 L251.00,388.48 L250.00,388.38 L249.00,388.28 L248.00,388.17 L247.00,388.05 L246.00,387.93 L245.00,387.80 L244.00,387.67 L243.00,387.53 L242.00,387.40 L241.00,387.26 L240.00,387.12 L239.00,386.96 L238.00,386.80 L237.00,386.63 L236.00,386.46 L235.00,386.27 L234.00,386.07 L233.00,385.86 L232.00,385.65 L231.00,385.43 L230.00,385.20 L229.00,384.97 L228.00,384.73 L227.00,384.50 L226.00,384.26 L225.00,384.01 L224.00,383.77 L223.00,383.52 L222.00,383.27 L221.00,383.02 L220.00,382.76 L219.00,382.50 L218.00,382.24 L217.00,381.98 L216.00,381.71 L215.00,381.45Z" fill="#72003c"/>
<path d="M55.00,345.66 L55.50,345.73 L56.00,345.81 L56.50,345.89 L57.00,345.97 L57.50,346.04 L58.00,346.12 L58.50,346.19 L59.00,346.27 L59.50,346.34 L60.00,346.41 L60.50,346.49 L61.00,346.56 L61.50,346.62 L62.00,346.69 L62.50,346.76 L63.00,346.82 L63.50,346.88 L64.00,346.94 L64.50,347.00 L65.00,347.06 L65.50,347.11 L66.00,347.16 L66.50,347.21 L67.00,347.25 L67.50,347.30 L68.00,347.33 L68.50,347.37 L69.00,347.40 L69.50,347.42 L70.00,347.44 L70.50,347.46 L71.00,347.47 L71.50,347.47 L72.00,347.47 L72.50,347.46 L73.00,347.44 L73.50,347.42 L74.00,347.39 L74.50,347.34 L75.00,347.29 L75.50,347.23 L76.00,347.16 L76.50,347.08 L77.00,346.98 L77.50,346.88 L78.00,346.76 L78.50,346.62 L79.00,346.48 L79.50,346.31 L80.00,346.14 L80.50,345.94 L81.00,345.73 L81.50,345.50 L82.00,345.26 L82.50,344.99 L83.00,344.71 L83.50,344.41 L84.00,344.09 L84.50,343.75 L85.00,343.39 L85.50,343.00 L86.00,342.60 L86.50,342.18 L87.00,341.74 L87.50,341.27 L88.00,340.79 L88.50,340.28 L89.00,339.76 L89.50,339.22 L90.00,338.65 L90.50,338.07 L91.00,337.48 L91.50,336.87 L92.00,336.24 L92.50,335.60 L93.00,334.95 L93.50,334.28 L94.00,333.61 L94.50,332.93 L95.00,332.25 L95.50,331.57 L96.00,330.88 L96.50,330.20 L97.00,329.53 L97.50,328.86 L98.00,328.20 L98.50,327.56 L99.00,326.94 L99.50,326.34 L100.00,325.77 L100.50,325.22 L101.00,324.71 L101.50,324.24 L102.00,323.81 L102.50,323.43 L103.00,323.09 L103.50,322.80 L104.00,322.58 L104.50,322.40 L105.00,322.29 L105.50,322.25 L106.00,322.26 L106.50,322.34 L107.00,322.48 L107.50,322.69 L108.00,322.96 L108.50,323.28 L109.00,323.67 L109.50,324.12 L110.00,324.61 L110.50,325.16 L111.00,325.75 L111.50,326.39 L112.00,327.06 L112.50,327.77 L113.00,328.51 L113.50,329.27 L114.00,330.06 L114.50,330.87 L115.00,331.69 L115.50,332.53 L116.00,333.38 L116.50,334.23 L117.00,335.09 L117.50,335.94 L118.00,336.80 L118.50,337.65 L119.00,338.50 L119.50,339.34 L120.00,340.16 L120.50,340.98 L121.00,341.79 L121.50,342.58 L122.00,343.35 L122.50,344.11 L123.00,344.85 L123.50,345.58 L124.00,346.28 L124.50,346.97 L125.00,347.64 L125.50,348.29 L126.00,348.91 L126.50,349.52 L127.00,350.11 L127.50,350.68 L128.00,351.22 L128.50,351.75 L129.00,352.26 L129.50,352.75 L130.00,353.22 L130.50,353.68 L131.00,354.12 L131.50,354.54 L132.00,354.94 L132.50,355.33 L133.00,355.71 L133.50,356.07 L134.00,356.42 L134.50,356.77 L135.00,357.10 L135.50,357.43 L136.00,357.76 L136.50,358.09 L137.00,358.41 L137.50,358.70 L138.00,358.97 L138.50,359.22 L139.00,359.45 L139.50,359.67 L140.00,359.88 L140.50,360.08 L141.00,360.26 L141.50,360.44 L142.00,360.62 L142.50,360.78 L143.00,360.94 L143.50,361.09 L144.00,361.24 L144.50,361.39 L145.00,361.52 L145.50,361.66 L146.00,361.79 L146.50,361.92 L147.00,362.04 L147.50,362.16 L148.00,362.28 L148.50,362.40 L149.00,362.51 L149.50,362.63 L150.00,362.74 L150.50,362.85 L151.00,362.95 L151.50,363.06 L152.00,363.17 L152.50,363.27 L153.00,363.38 L153.50,363.48 L154.00,363.59 L154.50,363.69 L155.00,363.79 L155.50,363.90 L156.00,364.00 L156.50,364.10 L157.00,364.21 L157.50,364.31 L158.00,364.42 L158.50,364.52 L159.00,364.63 L159.50,364.74 L160.00,364.85 L160.50,364.96 L161.00,365.06 L161.50,365.17 L162.00,365.27 L162.50,365.38 L163.00,365.48 L163.50,365.58 L164.00,365.69 L164.50,365.79 L165.00,365.89 L165.50,365.99 L166.00,366.10 L166.50,366.20 L167.00,366.30 L167.50,366.40 L168.00,366.51 L168.50,366.61 L169.00,366.72 L169.50,366.83 L170.00,366.93 L170.50,367.04 L171.00,367.15 L171.50,367.27 L172.00,367.38 L172.50,367.50 L173.00,367.61 L173.50,367.73 L174.00,367.85 L174.50,367.98 L175.00,368.10 L175.50,368.23 L176.00,368.36 L176.50,368.49 L177.00,368.63 L177.50,368.76 L178.00,368.90 L178.50,369.04 L179.00,369.18 L179.50,369.33 L180.00,369.48 L180.50,369.63 L181.00,369.78 L181.50,369.94 L182.00,370.10 L182.50,370.27 L183.00,370.43 L183.50,370.60 L184.00,370.77 L184.50,370.94 L185.00,371.12 L185.50,371.30 L186.00,371.47 L186.50,371.65 L187.00,371.83 L187.50,372.02 L188.00,372.20 L188.50,372.38 L189.00,372.57 L189.50,372.76 L190.00,372.94 L190.50,373.13 L191.00,373.32 L191.50,373.50 L192.00,373.69 L192.50,373.88 L193.00,374.07 L193.50,374.25 L194.00,374.44 L194.50,374.63 L195.00,374.82 L195.50,375.00 L196.00,375.19 L196.50,375.37 L197.00,375.56 L197.50,375.74 L198.00,375.92 L198.50,376.10 L199.00,376.28 L199.50,376.46 L200.00,376.64 L200.00,376.97 L199.00,376.62 L198.00,376.26 L197.00,375.91 L196.00,375.54 L195.00,375.18 L194.00,374.81 L193.00,374.45 L192.00,374.08 L191.00,373.71 L190.00,373.35 L189.00,372.99 L188.00,372.63 L187.00,372.27 L186.00,371.92 L185.00,371.58 L184.00,371.24 L183.00,370.92 L182.00,370.60 L181.00,370.29 L180.00,370.00 L179.00,369.72 L178.00,369.45 L177.00,369.19 L176.00,368.94 L175.00,368.70 L174.00,368.47 L173.00,368.25 L172.00,368.03 L171.00,367.82 L170.00,367.62 L169.00,367.43 L168.00,367.24 L167.00,367.06 L166.00,366.88 L165.00,366.70 L164.00,366.52 L163.00,366.34 L162.00,366.16 L161.00,365.98 L160.00,365.80 L159.00,365.62 L158.00,365.44 L157.00,365.27 L156.00,365.11 L155.00,364.94 L154.00,364.78 L153.00,364.63 L152.00,364.47 L151.00,364.32 L150.00,364.17 L149.00,364.02 L148.00,363.87 L147.00,363.72 L146.00,363.57 L145.00,363.41 L144.00,363.26 L143.00,363.10 L142.00,362.94 L141.00,362.77 L140.00,362.60 L139.00,362.41 L138.00,362.21 L137.00,361.96 L136.00,361.66 L135.00,361.40 L134.00,361.18 L133.00,360.97 L132.00,360.77 L131.00,360.58 L130.00,360.40 L129.00,360.22 L128.00,360.04 L127.00,359.87 L126.00,359.69 L125.00,359.52 L124.00,359.35 L123.00,359.18 L122.00,359.01 L121.00,358.83 L120.00,358.67 L119.00,358.50 L118.00,358.33 L117.00,358.16 L116.00,357.99 L115.00,357.82 L114.00,357.65 L113.00,357.48 L112.00,357.31 L111.00,357.14 L110.00,356.98 L109.00,356.81 L108.00,356.64 L107.00,356.47 L106.00,356.30 L105.00,356.13 L104.00,355.96 L103.00,355.79 L102.00,355.61 L101.00,355.44 L100.00,355.27 L99.00,355.10 L98.00,354.92 L97.00,354.75 L96.00,354.57 L95.00,354.40 L94.00,354.22 L93.00,354.04 L92.00,353.86 L91.00,353.68 L90.00,353.50 L89.00,353.32 L88.00,353.13 L87.00,352.95 L86.00,352.76 L85.00,352.57 L84.00,352.38 L83.00,352.19 L82.00,352.00 L81.00,351.81 L80.00,351.62 L79.00,351.42 L78.00,351.23 L77.00,351.04 L76.00,350.84 L75.00,350.65 L74.00,350.45 L73.00,350.26 L72.00,350.06 L71.00,349.86 L70.00,349.67 L69.00,349.47 L68.00,349.27 L67.00,349.07 L66.00,348.88 L65.00,348.68 L64.00,348.48 L63.00,348.28 L62.00,348.08 L61.00,347.88 L60.00,347.69 L59.00,347.49 L58.00,347.29 L57.00,347.09 L56.00,346.89 L55.00,346.70Z" fill="#ff00ff"/>
<path d="M160.00,365.30 L160.29,365.27 L160.64,365.24 L161.05,365.21 L161.50,365.17 L162.00,365.13 L162.53,365.08 L163.08,365.04 L163.66,364.99 L164.25,364.94 L164.85,364.88 L165.45,364.83 L166.04,364.77 L166.61,364.71 L167.17,364.66 L167.70,364.60 L168.22,364.55 L168.75,364.50 L169.28,364.46 L169.82,364.42 L170.36,364.38 L170.90,364.34 L171.44,364.29 L171.98,364.24 L172.51,364.19 L173.03,364.12 L173.53,364.05 L174.03,363.96 L174.50,363.86 L174.96,363.74 L175.40,363.60 L175.91,363.41 L176.39,363.19 L176.84,362.95 L177.26,362.70 L177.66,362.43 L178.06,362.14 L178.44,361.84 L178.83,361.53 L179.22,361.21 L179.63,360.88 L180.05,360.54 L180.50,360.20 L180.88,359.92 L181.27,359.64 L181.67,359.35 L182.07,359.05 L182.49,358.75 L182.91,358.44 L183.33,358.12 L183.75,357.80 L184.16,357.47 L184.58,357.13 L184.98,356.78 L185.38,356.43 L185.77,356.06 L186.14,355.68 L186.50,355.30 L186.82,354.93 L187.13,354.55 L187.44,354.16 L187.73,353.76 L188.01,353.35 L188.29,352.94 L188.57,352.52 L188.84,352.09 L189.11,351.65 L189.37,351.21 L189.64,350.77 L189.90,350.32 L190.17,349.87 L190.44,349.42 L190.72,348.96 L191.00,348.50 L191.25,348.09 L191.50,347.67 L191.76,347.24 L192.01,346.81 L192.26,346.38 L192.51,345.94 L192.76,345.49 L193.02,345.05 L193.27,344.60 L193.52,344.15 L193.78,343.70 L194.03,343.25 L194.29,342.80 L194.55,342.36 L194.81,341.91 L195.07,341.47 L195.33,341.03 L195.60,340.60 L195.87,340.16 L196.13,339.72 L196.40,339.27 L196.66,338.82 L196.92,338.36 L197.19,337.90 L197.46,337.45 L197.72,336.99 L197.99,336.54 L198.27,336.10 L198.54,335.67 L198.82,335.24 L199.11,334.83 L199.39,334.43 L199.69,334.04 L199.99,333.68 L200.29,333.33 L200.60,333.00 L201.01,332.59 L201.43,332.19 L201.86,331.79 L202.31,331.41 L202.75,331.04 L203.21,330.69 L203.67,330.37 L204.13,330.08 L204.60,329.82 L205.06,329.60 L205.53,329.42 L205.99,329.30 L206.45,329.22 L206.90,329.20 L207.32,329.24 L207.75,329.32 L208.19,329.45 L208.62,329.63 L209.06,329.84 L209.50,330.09 L209.94,330.37 L210.37,330.68 L210.80,331.01 L211.23,331.36 L211.64,331.73 L212.05,332.11 L212.45,332.50 L212.83,332.90 L213.20,333.30 L213.50,333.64 L213.78,333.99 L214.06,334.35 L214.33,334.72 L214.60,335.10 L214.85,335.49 L215.10,335.89 L215.35,336.31 L215.59,336.74 L215.84,337.18 L216.08,337.63 L216.31,338.10 L216.56,338.58 L216.80,339.08 L217.04,339.58 L217.29,340.11 L217.54,340.65 L217.80,341.20 L217.98,341.60 L218.17,342.01 L218.36,342.44 L218.55,342.88 L218.74,343.34 L218.94,343.80 L219.14,344.28 L219.34,344.77 L219.54,345.26 L219.74,345.76 L219.94,346.26 L220.13,346.77 L220.33,347.27 L220.53,347.78 L220.72,348.29 L220.91,348.80 L221.10,349.31 L221.29,349.81 L221.47,350.30 L221.65,350.79 L221.82,351.27 L221.99,351.74 L222.15,352.20 L222.31,352.65 L222.46,353.08 L222.60,353.50 L222.80,354.09 L222.98,354.66 L223.14,355.22 L223.30,355.77 L223.44,356.31 L223.58,356.84 L223.71,357.36 L223.84,357.87 L223.96,358.37 L224.07,358.86 L224.19,359.35 L224.31,359.83 L224.43,360.30 L224.55,360.77 L224.68,361.23 L224.81,361.69 L224.95,362.15 L225.10,362.60 L225.29,363.14 L225.48,363.67 L225.67,364.19 L225.86,364.71 L226.05,365.21 L226.25,365.71 L226.45,366.20 L226.65,366.68 L226.86,367.16 L227.07,367.62 L227.29,368.07 L227.51,368.52 L227.73,368.95 L227.96,369.38 L228.20,369.80 L228.48,370.27 L228.76,370.72 L229.06,371.16 L229.35,371.58 L229.65,372.00 L229.96,372.40 L230.28,372.79 L230.60,373.17 L230.92,373.55 L231.26,373.92 L231.60,374.28 L231.95,374.64 L232.30,375.00 L232.66,375.35 L233.04,375.70 L233.42,376.04 L233.82,376.38 L234.22,376.70 L234.63,377.02 L235.04,377.34 L235.45,377.65 L235.86,377.95 L236.28,378.24 L236.69,378.54 L237.10,378.82 L237.50,379.10 L237.93,379.39 L238.36,379.68 L238.78,379.96 L239.20,380.23 L239.62,380.49 L240.04,380.74 L240.46,380.99 L240.89,381.24 L241.33,381.48 L241.78,381.72 L242.23,381.96 L242.70,382.20 L243.14,382.42 L243.59,382.64 L244.04,382.87 L244.50,383.09 L244.97,383.31 L245.44,383.53 L245.91,383.74 L246.40,383.94 L246.89,384.13 L247.38,384.32 L247.88,384.49 L248.39,384.65 L248.90,384.80 L249.38,384.92 L249.88,385.03 L250.38,385.12 L250.89,385.20 L251.41,385.28 L251.93,385.34 L252.46,385.40 L252.98,385.46 L253.51,385.51 L254.04,385.56 L254.56,385.61 L255.08,385.67 L255.59,385.73 L256.10,385.80 L256.66,385.88 L257.25,385.96 L257.85,386.05 L258.47,386.14 L259.09,386.23 L259.70,386.32 L260.29,386.41 L260.86,386.49 L261.40,386.57 L261.88,386.64 L262.32,386.70 L262.70,386.76 L263.00,386.80 L263.00,389.35 L262.00,389.31 L261.00,389.26 L260.00,389.20 L259.00,389.13 L258.00,389.07 L257.00,388.99 L256.00,388.92 L255.00,388.84 L254.00,388.76 L253.00,388.67 L252.00,388.58 L251.00,388.48 L250.00,388.38 L249.00,388.28 L248.00,388.17 L247.00,388.05 L246.00,387.93 L245.00,387.80 L244.00,387.67 L243.00,387.53 L242.00,387.40 L241.00,387.26 L240.00,387.12 L239.00,386.96 L238.00,386.80 L237.00,386.63 L236.00,386.46 L235.00,386.27 L234.00,386.07 L233.00,385.86 L232.00,385.65 L231.00,385.43 L230.00,385.20 L229.00,384.97 L228.00,384.73 L227.00,384.50 L226.00,384.26 L225.00,384.01 L224.00,383.77 L223.00,383.52 L222.00,383.27 L221.00,383.02 L220.00,382.76 L219.00,382.50 L218.00,382.24 L217.00,381.98 L216.00,381.71 L215.00,381.45 L214.00,381.18 L213.00,380.90 L212.00,380.63 L211.00,380.35 L210.00,380.07 L209.00,379.78 L208.00,379.49 L207.00,379.20 L206.00,378.90 L205.00,378.60 L204.00,378.29 L203.00,377.97 L202.00,377.64 L201.00,377.31 L200.00,376.97 L199.00,376.62 L198.00,376.26 L197.00,375.91 L196.00,375.54 L195.00,375.18 L194.00,374.81 L193.00,374.45 L192.00,374.08 L191.00,373.71 L190.00,373.35 L189.00,372.99 L188.00,372.63 L187.00,372.27 L186.00,371.92 L185.00,371.58 L184.00,371.24 L183.00,370.92 L182.00,370.60 L181.00,370.29 L180.00,370.00 L179.00,369.72 L178.00,369.45 L177.00,369.19 L176.00,368.94 L175.00,368.70 L174.00,368.47 L173.00,368.25 L172.00,368.03 L171.00,367.82 L170.00,367.62 L169.00,367.43 L168.00,367.24 L167.00,367.06 L166.00,366.88 L165.00,366.70 L164.00,366.52 L163.00,366.34 L162.00,366.16 L161.00,365.98 L160.00,365.80Z" fill="#e6dc2e"/>
<path d="M54.00,344.60 L54.50,344.70 L55.00,344.80 L55.50,344.89 L56.00,344.99 L56.50,345.09 L57.00,345.19 L57.50,345.29 L58.00,345.39 L58.50,345.49 L59.00,345.59 L59.50,345.69 L60.00,345.79 L60.50,345.88 L61.00,345.98 L61.50,346.08 L62.00,346.18 L62.50,346.28 L63.00,346.38 L63.50,346.48 L64.00,346.58 L64.50,346.68 L65.00,346.78 L65.50,346.88 L66.00,346.98 L66.50,347.08 L67.00,347.17 L67.50,347.27 L68.00,347.37 L68.50,347.47 L69.00,347.57 L69.50,347.67 L70.00,347.77 L70.50,347.87 L71.00,347.96 L71.50,348.06 L72.00,348.16 L72.50,348.26 L73.00,348.36 L73.50,348.45 L74.00,348.55 L74.50,348.65 L75.00,348.75 L75.50,348.85 L76.00,348.94 L76.50,349.04 L77.00,349.14 L77.50,349.23 L78.00,349.33 L78.50,349.43 L79.00,349.52 L79.50,349.62 L80.00,349.72 L80.50,349.81 L81.00,349.91 L81.50,350.00 L82.00,350.10 L82.50,350.20 L83.00,350.29 L83.50,350.39 L84.00,350.48 L84.50,350.58 L85.00,350.67 L85.50,350.76 L86.00,350.86 L86.50,350.95 L87.00,351.05 L87.50,351.14 L88.00,351.23 L88.50,351.32 L89.00,351.42 L89.50,351.51 L90.00,351.60 L90.50,351.69 L91.00,351.78 L91.50,351.87 L92.00,351.96 L92.50,352.05 L93.00,352.14 L93.50,352.23 L94.00,352.32 L94.50,352.41 L95.00,352.50 L95.50,352.59 L96.00,352.67 L96.50,352.76 L97.00,352.85 L97.50,352.94 L98.00,353.02 L98.50,353.11 L99.00,353.20 L99.50,353.28 L100.00,353.37 L100.50,353.46 L101.00,353.54 L101.50,353.63 L102.00,353.71 L102.50,353.80 L103.00,353.89 L103.50,353.97 L104.00,354.06 L104.50,354.14 L105.00,354.23 L105.50,354.31 L106.00,354.40 L106.50,354.48 L107.00,354.57 L107.50,354.65 L108.00,354.74 L108.50,354.82 L109.00,354.91 L109.50,354.99 L110.00,355.08 L110.50,355.16 L111.00,355.24 L111.50,355.33 L112.00,355.41 L112.50,355.50 L113.00,355.58 L113.50,355.67 L114.00,355.75 L114.50,355.84 L115.00,355.92 L115.50,356.00 L116.00,356.09 L116.50,356.17 L117.00,356.26 L117.50,356.34 L118.00,356.43 L118.50,356.51 L119.00,356.60 L119.50,356.68 L120.00,356.77 L120.50,356.85 L121.00,356.93 L121.50,357.02 L122.00,357.11 L122.50,357.19 L123.00,357.28 L123.50,357.36 L124.00,357.45 L124.50,357.53 L125.00,357.62 L125.50,357.71 L126.00,357.79 L126.50,357.88 L127.00,357.97 L127.50,358.05 L128.00,358.14 L128.50,358.23 L129.00,358.32 L129.50,358.41 L130.00,358.50 L130.50,358.59 L131.00,358.68 L131.50,358.78 L132.00,358.87 L132.50,358.97 L133.00,359.07 L133.50,359.17 L134.00,359.28 L134.50,359.39 L135.00,359.50 L135.50,359.62 L136.00,359.76 L136.50,359.91 L137.00,360.06 L137.50,360.19 L138.00,360.31 L138.50,360.41 L139.00,360.51 L139.50,360.61 L140.00,360.70 L140.50,360.79 L141.00,360.87 L141.50,360.96 L142.00,361.04 L142.50,361.12 L143.00,361.20 L143.50,361.28 L144.00,361.36 L144.50,361.44 L145.00,361.51 L145.50,361.59 L146.00,361.67 L146.50,361.74 L147.00,361.82 L147.50,361.89 L148.00,361.97 L148.50,362.04 L149.00,362.12 L149.50,362.19 L150.00,362.27 L150.50,362.34 L151.00,362.42 L151.50,362.50 L152.00,362.57 L152.50,362.65 L153.00,362.73 L153.50,362.81 L154.00,362.88 L154.50,362.96 L155.00,363.04 L155.50,363.12 L156.00,363.21 L156.50,363.29 L157.00,363.37 L157.50,363.46 L158.00,363.54 L158.50,363.63 L159.00,363.72 L159.50,363.81 L160.00,363.90 L160.50,363.99 L161.00,364.08 L161.50,364.17 L162.00,364.26 L162.50,364.35 L163.00,364.44 L163.50,364.53 L164.00,364.62 L164.50,364.71 L165.00,364.80 L165.50,364.89 L166.00,364.98 L166.50,365.07 L167.00,365.16 L167.50,365.25 L168.00,365.34 L168.50,365.44 L169.00,365.53 L169.50,365.63 L170.00,365.72 L170.50,365.82 L171.00,365.92 L171.50,366.03 L172.00,366.13 L172.50,366.24 L173.00,366.35 L173.50,366.46 L174.00,366.57 L174.50,366.68 L175.00,366.80 L175.50,366.92 L176.00,367.04 L176.50,367.16 L177.00,367.29 L177.50,367.42 L178.00,367.55 L178.50,367.68 L179.00,367.82 L179.50,367.96 L180.00,368.10 L180.50,368.24 L181.00,368.39 L181.50,368.54 L182.00,368.70 L182.50,368.86 L183.00,369.02 L183.50,369.18 L184.00,369.34 L184.50,369.51 L185.00,369.68 L185.50,369.85 L186.00,370.02 L186.50,370.20 L187.00,370.37 L187.50,370.55 L188.00,370.73 L188.50,370.91 L189.00,371.09 L189.50,371.27 L190.00,371.45 L190.50,371.63 L191.00,371.81 L191.50,372.00 L192.00,372.18 L192.50,372.36 L193.00,372.55 L193.50,372.73 L194.00,372.91 L194.50,373.10 L195.00,373.28 L195.50,373.46 L196.00,373.64 L196.50,373.83 L197.00,374.01 L197.50,374.18 L198.00,374.36 L198.50,374.54 L199.00,374.72 L199.50,374.89 L200.00,375.07 L200.50,375.24 L201.00,375.41 L201.50,375.58 L202.00,375.74 L202.50,375.91 L203.00,376.07 L203.50,376.23 L204.00,376.39 L204.50,376.55 L205.00,376.70 L205.50,376.85 L206.00,377.00 L206.50,377.15 L207.00,377.30 L207.50,377.45 L208.00,377.59 L208.50,377.74 L209.00,377.88 L209.50,378.02 L210.00,378.17 L210.50,378.31 L211.00,378.45 L211.50,378.59 L212.00,378.73 L212.50,378.87 L213.00,379.00 L213.50,379.14 L214.00,379.28 L214.50,379.41 L215.00,379.55 L215.50,379.68 L216.00,379.81 L216.50,379.95 L217.00,380.08 L217.50,380.21 L218.00,380.34 L218.50,380.47 L219.00,380.60 L219.50,380.73 L220.00,380.86 L220.50,380.99 L221.00,381.12 L221.50,381.24 L222.00,381.37 L222.50,381.49 L223.00,381.62 L223.50,381.74 L224.00,381.87 L224.50,381.99 L225.00,382.11 L225.50,382.23 L226.00,382.36 L226.50,382.48 L227.00,382.60 L227.50,382.71 L228.00,382.83 L228.50,382.95 L229.00,383.07 L229.50,383.18 L230.00,383.30 L230.50,383.41 L231.00,383.53 L231.50,383.64 L232.00,383.75 L232.50,383.86 L233.00,383.96 L233.50,384.07 L234.00,384.17 L234.50,384.27 L235.00,384.37 L235.50,384.46 L236.00,384.56 L236.50,384.65 L237.00,384.73 L237.50,384.82 L238.00,384.90 L238.50,384.99 L239.00,385.06 L239.50,385.14 L240.00,385.22 L240.50,385.29 L241.00,385.36 L241.50,385.43 L242.00,385.50 L242.50,385.57 L243.00,385.63 L243.50,385.70 L244.00,385.77 L244.50,385.83 L245.00,385.90 L245.50,385.97 L246.00,386.03 L246.50,386.09 L247.00,386.15 L247.50,386.21 L248.00,386.27 L248.50,386.33 L249.00,386.38 L249.50,386.43 L250.00,386.48 L250.50,386.54 L251.00,386.58 L251.50,386.63 L252.00,386.68 L252.50,386.73 L253.00,386.77 L253.50,386.81 L254.00,386.86 L254.50,386.90 L255.00,386.94 L255.50,386.98 L256.00,387.02 L256.50,387.06 L257.00,387.09 L257.50,387.13 L258.00,387.17 L258.50,387.20 L259.00,387.23 L259.50,387.27 L260.00,387.30 L260.50,387.33 L261.00,387.36 L261.50,387.39 L262.00,387.41 L262.50,387.43 L263.00,387.45 L263.50,387.47 L264.00,387.49 L264.50,387.51 L265.00,387.52 L265.50,387.54 L266.00,387.55 L266.50,387.56 L267.00,387.58 L267.50,387.59 L268.00,387.60 L268.50,387.61 L269.00,387.62 L269.50,387.63 L270.00,387.64 L270.50,387.65 L271.00,387.66 L271.50,387.67 L272.00,387.68 L272.50,387.69 L273.00,387.70" fill="none" stroke="#ff00ff" stroke-width="1.9"/>
<path d="M54.00,346.70 L54.50,346.80 L55.00,346.90 L55.50,346.99 L56.00,347.09 L56.50,347.19 L57.00,347.29 L57.50,347.39 L58.00,347.49 L58.50,347.59 L59.00,347.69 L59.50,347.79 L60.00,347.89 L60.50,347.98 L61.00,348.08 L61.50,348.18 L62.00,348.28 L62.50,348.38 L63.00,348.48 L63.50,348.58 L64.00,348.68 L64.50,348.78 L65.00,348.88 L65.50,348.98 L66.00,349.08 L66.50,349.18 L67.00,349.27 L67.50,349.37 L68.00,349.47 L68.50,349.57 L69.00,349.67 L69.50,349.77 L70.00,349.87 L70.50,349.97 L71.00,350.06 L71.50,350.16 L72.00,350.26 L72.50,350.36 L73.00,350.46 L73.50,350.55 L74.00,350.65 L74.50,350.75 L75.00,350.85 L75.50,350.95 L76.00,351.04 L76.50,351.14 L77.00,351.24 L77.50,351.33 L78.00,351.43 L78.50,351.53 L79.00,351.62 L79.50,351.72 L80.00,351.82 L80.50,351.91 L81.00,352.01 L81.50,352.10 L82.00,352.20 L82.50,352.30 L83.00,352.39 L83.50,352.49 L84.00,352.58 L84.50,352.68 L85.00,352.77 L85.50,352.86 L86.00,352.96 L86.50,353.05 L87.00,353.15 L87.50,353.24 L88.00,353.33 L88.50,353.42 L89.00,353.52 L89.50,353.61 L90.00,353.70 L90.50,353.79 L91.00,353.88 L91.50,353.97 L92.00,354.06 L92.50,354.15 L93.00,354.24 L93.50,354.33 L94.00,354.42 L94.50,354.51 L95.00,354.60 L95.50,354.69 L96.00,354.77 L96.50,354.86 L97.00,354.95 L97.50,355.04 L98.00,355.12 L98.50,355.21 L99.00,355.30 L99.50,355.38 L100.00,355.47 L100.50,355.56 L101.00,355.64 L101.50,355.73 L102.00,355.81 L102.50,355.90 L103.00,355.99 L103.50,356.07 L104.00,356.16 L104.50,356.24 L105.00,356.33 L105.50,356.41 L106.00,356.50 L106.50,356.58 L107.00,356.67 L107.50,356.75 L108.00,356.84 L108.50,356.92 L109.00,357.01 L109.50,357.09 L110.00,357.18 L110.50,357.26 L111.00,357.34 L111.50,357.43 L112.00,357.51 L112.50,357.60 L113.00,357.68 L113.50,357.77 L114.00,357.85 L114.50,357.94 L115.00,358.02 L115.50,358.10 L116.00,358.19 L116.50,358.27 L117.00,358.36 L117.50,358.44 L118.00,358.53 L118.50,358.61 L119.00,358.70 L119.50,358.78 L120.00,358.87 L120.50,358.95 L121.00,359.03 L121.50,359.12 L122.00,359.21 L122.50,359.29 L123.00,359.38 L123.50,359.46 L124.00,359.55 L124.50,359.63 L125.00,359.72 L125.50,359.81 L126.00,359.89 L126.50,359.98 L127.00,360.07 L127.50,360.15 L128.00,360.24 L128.50,360.33 L129.00,360.42 L129.50,360.51 L130.00,360.60 L130.50,360.69 L131.00,360.78 L131.50,360.88 L132.00,360.97 L132.50,361.07 L133.00,361.17 L133.50,361.27 L134.00,361.38 L134.50,361.49 L135.00,361.60 L135.50,361.72 L136.00,361.86 L136.50,362.01 L137.00,362.16 L137.50,362.29 L138.00,362.41 L138.50,362.51 L139.00,362.61 L139.50,362.71 L140.00,362.80 L140.50,362.89 L141.00,362.97 L141.50,363.06 L142.00,363.14 L142.50,363.22 L143.00,363.30 L143.50,363.38 L144.00,363.46 L144.50,363.54 L145.00,363.61 L145.50,363.69 L146.00,363.77 L146.50,363.84 L147.00,363.92 L147.50,363.99 L148.00,364.07 L148.50,364.14 L149.00,364.22 L149.50,364.29 L150.00,364.37 L150.50,364.44 L151.00,364.52 L151.50,364.60 L152.00,364.67 L152.50,364.75 L153.00,364.83 L153.50,364.91 L154.00,364.98 L154.50,365.06 L155.00,365.14 L155.50,365.22 L156.00,365.31 L156.50,365.39 L157.00,365.47 L157.50,365.56 L158.00,365.64 L158.50,365.73 L159.00,365.82 L159.50,365.91 L160.00,366.00 L160.50,366.09 L161.00,366.18 L161.50,366.27 L162.00,366.36 L162.50,366.45 L163.00,366.54 L163.50,366.63 L164.00,366.72 L164.50,366.81 L165.00,366.90 L165.50,366.99 L166.00,367.08 L166.50,367.17 L167.00,367.26 L167.50,367.35 L168.00,367.44 L168.50,367.54 L169.00,367.63 L169.50,367.73 L170.00,367.82 L170.50,367.92 L171.00,368.02 L171.50,368.13 L172.00,368.23 L172.50,368.34 L173.00,368.45 L173.50,368.56 L174.00,368.67 L174.50,368.78 L175.00,368.90 L175.50,369.02 L176.00,369.14 L176.50,369.26 L177.00,369.39 L177.50,369.52 L178.00,369.65 L178.50,369.78 L179.00,369.92 L179.50,370.06 L180.00,370.20 L180.50,370.34 L181.00,370.49 L181.50,370.64 L182.00,370.80 L182.50,370.96 L183.00,371.12 L183.50,371.28 L184.00,371.44 L184.50,371.61 L185.00,371.78 L185.50,371.95 L186.00,372.12 L186.50,372.30 L187.00,372.47 L187.50,372.65 L188.00,372.83 L188.50,373.01 L189.00,373.19 L189.50,373.37 L190.00,373.55 L190.50,373.73 L191.00,373.91 L191.50,374.10 L192.00,374.28 L192.50,374.46 L193.00,374.65 L193.50,374.83 L194.00,375.01 L194.50,375.20 L195.00,375.38 L195.50,375.56 L196.00,375.74 L196.50,375.93 L197.00,376.11 L197.50,376.28 L198.00,376.46 L198.50,376.64 L199.00,376.82 L199.50,376.99 L200.00,377.17 L200.50,377.34 L201.00,377.51 L201.50,377.68 L202.00,377.84 L202.50,378.01 L203.00,378.17 L203.50,378.33 L204.00,378.49 L204.50,378.65 L205.00,378.80 L205.50,378.95 L206.00,379.10 L206.50,379.25 L207.00,379.40 L207.50,379.55 L208.00,379.69 L208.50,379.84 L209.00,379.98 L209.50,380.12 L210.00,380.27 L210.50,380.41 L211.00,380.55 L211.50,380.69 L212.00,380.83 L212.50,380.97 L213.00,381.10 L213.50,381.24 L214.00,381.38 L214.50,381.51 L215.00,381.65 L215.50,381.78 L216.00,381.91 L216.50,382.05 L217.00,382.18 L217.50,382.31 L218.00,382.44 L218.50,382.57 L219.00,382.70 L219.50,382.83 L220.00,382.96 L220.50,383.09 L221.00,383.22 L221.50,383.34 L222.00,383.47 L222.50,383.59 L223.00,383.72 L223.50,383.84 L224.00,383.97 L224.50,384.09 L225.00,384.21 L225.50,384.33 L226.00,384.46 L226.50,384.58 L227.00,384.70 L227.50,384.81 L228.00,384.93 L228.50,385.05 L229.00,385.17 L229.50,385.28 L230.00,385.40 L230.50,385.51 L231.00,385.63 L231.50,385.74 L232.00,385.85 L232.50,385.96 L233.00,386.06 L233.50,386.17 L234.00,386.27 L234.50,386.37 L235.00,386.47 L235.50,386.56 L236.00,386.66 L236.50,386.75 L237.00,386.83 L237.50,386.92 L238.00,387.00 L238.50,387.09 L239.00,387.16 L239.50,387.24 L240.00,387.32 L240.50,387.39 L241.00,387.46 L241.50,387.53 L242.00,387.60 L242.50,387.67 L243.00,387.73 L243.50,387.80 L244.00,387.87 L244.50,387.93 L245.00,388.00 L245.50,388.07 L246.00,388.13 L246.50,388.19 L247.00,388.25 L247.50,388.31 L248.00,388.37 L248.50,388.43 L249.00,388.48 L249.50,388.53 L250.00,388.58 L250.50,388.64 L251.00,388.68 L251.50,388.73 L252.00,388.78 L252.50,388.83 L253.00,388.87 L253.50,388.91 L254.00,388.96 L254.50,389.00 L255.00,389.04 L255.50,389.08 L256.00,389.12 L256.50,389.16 L257.00,389.19 L257.50,389.23 L258.00,389.27 L258.50,389.30 L259.00,389.33 L259.50,389.37 L260.00,389.40 L260.50,389.43 L261.00,389.46 L261.50,389.49 L262.00,389.51 L262.50,389.53 L263.00,389.55 L263.50,389.57 L264.00,389.59 L264.50,389.61 L265.00,389.62 L265.50,389.64 L266.00,389.65 L266.50,389.66 L267.00,389.68 L267.50,389.69 L268.00,389.70 L268.50,389.71 L269.00,389.72 L269.50,389.73 L270.00,389.74 L270.50,389.75 L271.00,389.76 L271.50,389.77 L272.00,389.78 L272.50,389.79 L273.00,389.80" fill="none" stroke="#000" stroke-width="2"/>
<path d="M54.5,341.8 L57,341.5 L58.5,342.6 L60,343.8 L62,344.6 L64,345.2 L64,346.5 L54.5,345.5Z" fill="#ff00ff"/>
<path d="M54.5,344.3 L55.5,343.6 L56.3,345.2 L57.2,344 L58,345.8 L58.8,344.6 L59.6,346.4 L60.5,345.5 L61.3,347.1 L62.5,346.4 L63.5,347.8 L64.5,347.3 L65.5,348.4 L66,349.2 L54.5,349Z" fill="#000"/>
<rect x="54.0" y="231.2" width="219.60000000000002" height="178.5" fill="none" stroke="#000" stroke-width="2"/>
<line x1="273.5" y1="409.7" x2="273.5" y2="413.0" stroke="#000" stroke-width="1.6"/>
<text x="273.5" y="424.6" font-size="10.9" text-anchor="middle" font-family="Liberation Sans, sans-serif" font-weight="bold">850</text>
<line x1="245.3" y1="409.7" x2="245.3" y2="413.0" stroke="#000" stroke-width="1.6"/>
<text x="245.3" y="424.6" font-size="10.9" text-anchor="middle" font-family="Liberation Sans, sans-serif" font-weight="bold">855</text>
<line x1="217.2" y1="409.7" x2="217.2" y2="413.0" stroke="#000" stroke-width="1.6"/>
<text x="217.2" y="424.6" font-size="10.9" text-anchor="middle" font-family="Liberation Sans, sans-serif" font-weight="bold">860</text>
<line x1="189.0" y1="409.7" x2="189.0" y2="413.0" stroke="#000" stroke-width="1.6"/>
<text x="189.0" y="424.6" font-size="10.9" text-anchor="middle" font-family="Liberation Sans, sans-serif" font-weight="bold">865</text>
<line x1="160.8" y1="409.7" x2="160.8" y2="413.0" stroke="#000" stroke-width="1.6"/>
<text x="160.8" y="424.6" font-size="10.9" text-anchor="middle" font-family="Liberation Sans, sans-serif" font-weight="bold">870</text>
<line x1="132.7" y1="409.7" x2="132.7" y2="413.0" stroke="#000" stroke-width="1.6"/>
<text x="132.7" y="424.6" font-size="10.9" text-anchor="middle" font-family="Liberation Sans, sans-serif" font-weight="bold">875</text>
<line x1="104.5" y1="409.7" x2="104.5" y2="413.0" stroke="#000" stroke-width="1.6"/>
<text x="104.5" y="424.6" font-size="10.9" text-anchor="middle" font-family="Liberation Sans, sans-serif" font-weight="bold">880</text>
<line x1="76.3" y1="409.7" x2="76.3" y2="413.0" stroke="#000" stroke-width="1.6"/>
<text x="76.3" y="424.6" font-size="10.9" text-anchor="middle" font-family="Liberation Sans, sans-serif" font-weight="bold">885</text>
<line x1="259.4" y1="409.7" x2="259.4" y2="411.5" stroke="#000" stroke-width="1.2"/>
<line x1="231.2" y1="409.7" x2="231.2" y2="411.5" stroke="#000" stroke-width="1.2"/>
<line x1="203.1" y1="409.7" x2="203.1" y2="411.5" stroke="#000" stroke-width="1.2"/>
<line x1="174.9" y1="409.7" x2="174.9" y2="411.5" stroke="#000" stroke-width="1.2"/>
<line x1="146.7" y1="409.7" x2="146.7" y2="411.5" stroke="#000" stroke-width="1.2"/>
<line x1="118.6" y1="409.7" x2="118.6" y2="411.5" stroke="#000" stroke-width="1.2"/>
<line x1="90.4" y1="409.7" x2="90.4" y2="411.5" stroke="#000" stroke-width="1.2"/>
<line x1="62.2" y1="409.7" x2="62.2" y2="411.5" stroke="#000" stroke-width="1.2"/>
<text x="163.3" y="446.8" font-size="14.9" class="t" text-anchor="middle" font-family="Liberation Sans, sans-serif" font-weight="bold">Binding Energy (eV)</text>
<text transform="translate(36.7,315.2) rotate(-90)" font-size="14.9" class="t" text-anchor="middle" font-family="Liberation Sans, sans-serif" font-weight="bold">Intensity (a.u.)</text>
<text x="55.4" y="243.8" font-size="12" font-family="Liberation Sans, sans-serif" font-weight="bold">(c)</text>
<text x="190.2" y="245" font-size="12.35" class="t" font-family="Liberation Sans, sans-serif" font-weight="bold">Ni 2p</text>
<text x="228.3" y="244.9" font-size="8.1" class="s" font-family="Liberation Sans, sans-serif" font-weight="bold">Ni 2p<tspan dy="3.8">3/2</tspan></text>
<text x="130.9" y="297.7" font-size="8.1" class="s" font-family="Liberation Sans, sans-serif" font-weight="bold">Ni 2p<tspan dy="3.8">1/2</tspan></text>
<path d="M319.80,339.10 L320.16,339.20 L320.63,339.34 L321.20,339.51 L321.82,339.69 L322.49,339.88 L323.18,340.07 L323.85,340.26 L324.50,340.43 L325.11,340.58 L325.76,340.74 L326.43,340.91 L327.11,341.08 L327.77,341.24 L328.40,341.37 L328.98,341.46 L329.48,341.50 L330.02,341.46 L330.44,340.97 L330.62,340.33 L331.20,340.00 L331.63,340.04 L332.16,340.17 L332.76,340.36 L333.40,340.58 L334.06,340.81 L334.72,341.04 L335.36,341.23 L335.94,341.36 L336.55,341.43 L337.22,341.43 L337.84,341.37 L338.43,341.27 L339.00,341.13 L339.54,340.98 L340.11,340.79 L340.67,340.53 L341.20,340.22 L341.71,339.90 L342.23,339.62 L342.79,339.40 L343.35,339.24 L343.92,339.12 L344.50,338.97 L345.13,338.77 L345.66,338.53 L346.18,338.28 L346.71,337.98 L347.26,337.68 L347.81,337.37 L348.36,337.07 L348.90,336.80 L349.45,336.55 L350.00,336.31 L350.56,336.08 L351.11,335.86 L351.66,335.64 L352.22,335.41 L352.78,335.18 L353.35,334.93 L353.92,334.68 L354.49,334.43 L355.07,334.19 L355.64,333.98 L356.20,333.80 L356.80,333.64 L357.40,333.50 L358.00,333.38 L358.60,333.30 L359.20,333.27 L359.80,333.30 L360.40,333.39 L361.01,333.54 L361.63,333.73 L362.24,333.95 L362.82,334.19 L363.37,334.44 L363.93,334.70 L364.45,334.97 L364.93,335.25 L365.41,335.59 L365.92,336.03 L366.37,336.48 L366.74,336.88 L367.12,337.34 L367.52,337.84 L367.92,338.36 L368.32,338.88 L368.71,339.39 L369.08,339.87 L369.43,340.31 L369.85,340.79 L370.30,341.32 L370.72,341.81 L371.12,342.25 L371.51,342.62 L371.90,342.93 L372.44,343.24 L373.01,343.42 L373.58,343.49 L374.20,343.50 L374.77,343.47 L375.37,343.38 L376.00,343.25 L376.66,343.09 L377.27,342.93 L377.84,342.76 L378.43,342.58 L379.03,342.38 L379.64,342.17 L380.25,341.95 L380.82,341.75 L381.38,341.54 L381.94,341.32 L382.51,341.10 L383.10,340.86 L383.69,340.62 L384.27,340.39 L384.82,340.17 L385.38,339.94 L385.96,339.70 L386.54,339.47 L387.11,339.22 L387.68,338.98 L388.24,338.74 L388.81,338.49 L389.37,338.24 L389.93,337.98 L390.48,337.73 L391.04,337.47 L391.59,337.20 L392.14,336.93 L392.69,336.65 L393.25,336.36 L393.81,336.06 L394.36,335.77 L394.89,335.48 L395.42,335.20 L395.95,334.92 L396.54,334.62 L397.11,334.34 L397.66,334.07 L398.20,333.80 L398.73,333.53 L399.28,333.26 L399.80,333.01 L400.30,332.77 L400.82,332.51 L401.40,332.20 L402.01,331.84 L402.45,331.56 L402.93,331.25 L403.43,330.93 L403.95,330.58 L404.49,330.22 L405.03,329.85 L405.57,329.47 L406.11,329.09 L406.62,328.71 L407.09,328.36 L407.57,328.00 L408.06,327.64 L408.55,327.27 L409.03,326.89 L409.51,326.50 L409.98,326.11 L410.44,325.71 L410.88,325.31 L411.31,324.89 L411.73,324.45 L412.12,324.03 L412.49,323.59 L412.85,323.16 L413.21,322.70 L413.58,322.23 L413.96,321.72 L414.36,321.18 L414.80,320.60 L415.12,320.18 L415.44,319.72 L415.78,319.24 L416.13,318.74 L416.49,318.22 L416.85,317.69 L417.22,317.16 L417.59,316.62 L417.96,316.09 L418.34,315.58 L418.71,315.07 L419.07,314.59 L419.43,314.13 L419.81,313.67 L420.24,313.18 L420.67,312.71 L421.09,312.27 L421.52,311.84 L421.95,311.43 L422.37,311.02 L422.80,310.63 L423.22,310.23 L423.65,309.83 L424.07,309.42 L424.50,309.00 L424.93,308.58 L425.35,308.16 L425.78,307.75 L426.20,307.35 L426.63,306.94 L427.05,306.53 L427.48,306.11 L427.91,305.68 L428.33,305.24 L428.76,304.79 L429.19,304.32 L429.58,303.88 L429.96,303.44 L430.33,302.99 L430.71,302.53 L431.09,302.06 L431.47,301.59 L431.84,301.10 L432.22,300.62 L432.60,300.13 L432.98,299.65 L433.36,299.17 L433.73,298.69 L434.11,298.22 L434.49,297.74 L434.87,297.23 L435.26,296.71 L435.66,296.18 L436.05,295.65 L436.44,295.12 L436.83,294.60 L437.21,294.10 L437.59,293.62 L437.96,293.18 L438.32,292.77 L438.66,292.41 L439.00,292.10 L439.63,291.60 L440.20,291.24 L440.73,291.00 L441.27,290.87 L441.82,290.83 L442.43,290.88 L442.97,290.97 L443.50,291.11 L444.06,291.31 L444.63,291.55 L445.21,291.84 L445.79,292.16 L446.35,292.52 L446.89,292.90 L447.40,293.30 L447.82,293.68 L448.22,294.10 L448.62,294.54 L449.00,295.02 L449.37,295.51 L449.73,296.02 L450.08,296.54 L450.43,297.06 L450.77,297.58 L451.10,298.10 L451.43,298.62 L451.74,299.15 L452.05,299.69 L452.35,300.24 L452.64,300.79 L452.92,301.35 L453.20,301.90 L453.47,302.44 L453.74,302.98 L454.00,303.50 L454.29,304.08 L454.57,304.66 L454.85,305.24 L455.12,305.82 L455.38,306.38 L455.63,306.93 L455.87,307.45 L456.09,307.94 L456.30,308.40 L456.61,309.07 L456.86,309.62 L457.09,310.12 L457.31,310.63 L457.54,311.23 L457.73,311.78 L457.90,312.29 L458.07,312.83 L458.24,313.40 L458.42,313.99 L458.62,314.62 L458.83,315.28 L459.04,315.92 L459.22,316.44 L459.41,316.98 L459.61,317.55 L459.81,318.13 L460.02,318.72 L460.24,319.32 L460.46,319.92 L460.67,320.53 L460.89,321.12 L461.10,321.71 L461.30,322.29 L461.50,322.85 L461.70,323.41 L461.89,323.96 L462.09,324.52 L462.29,325.08 L462.49,325.64 L462.69,326.20 L462.90,326.77 L463.12,327.35 L463.34,327.95 L463.55,328.50 L463.75,329.05 L463.95,329.60 L464.15,330.17 L464.36,330.74 L464.57,331.31 L464.79,331.88 L465.01,332.46 L465.25,333.03 L465.50,333.60 L465.77,334.17 L466.05,334.73 L466.34,335.25 L466.65,335.76 L466.97,336.27 L467.31,336.77 L467.66,337.28 L468.02,337.78 L468.39,338.28 L468.76,338.78 L469.14,339.27 L469.50,339.75 L469.87,340.23 L470.22,340.70 L470.56,341.16 L470.90,341.63 L471.27,342.17 L471.63,342.69 L471.98,343.20 L472.32,343.70 L472.66,344.20 L472.99,344.68 L473.33,345.16 L473.66,345.63 L474.00,346.10 L474.34,346.56 L474.70,347.02 L475.08,347.51 L475.47,347.99 L475.86,348.45 L476.26,348.91 L476.65,349.36 L477.04,349.80 L477.43,350.25 L477.82,350.70 L478.21,351.15 L478.60,351.62 L478.98,352.08 L479.36,352.55 L479.74,353.02 L480.12,353.50 L480.49,353.97 L480.87,354.44 L481.25,354.91 L481.63,355.38 L482.01,355.85 L482.40,356.32 L482.79,356.77 L483.20,357.23 L483.62,357.67 L484.03,358.12 L484.45,358.57 L484.85,359.02 L485.24,359.48 L485.61,359.95 L485.96,360.43 L486.28,360.93 L486.56,361.45 L486.81,361.99 L487.03,362.54 L487.23,363.10 L487.43,363.67 L487.63,364.24 L487.84,364.80 L488.08,365.37 L488.35,365.92 L488.64,366.45 L488.95,366.94 L489.28,367.44 L489.62,367.93 L489.98,368.42 L490.35,368.91 L490.72,369.40 L491.10,369.89 L491.47,370.39 L491.84,370.88 L492.21,371.38 L492.56,371.87 L492.91,372.36 L493.25,372.86 L493.60,373.36 L493.94,373.87 L494.29,374.37 L494.64,374.87 L494.99,375.36 L495.36,375.85 L495.72,376.32 L496.10,376.79 L496.50,377.25 L496.91,377.70 L497.33,378.15 L497.75,378.59 L498.18,379.03 L498.62,379.45 L499.06,379.87 L499.50,380.29 L499.93,380.70 L500.37,381.10 L500.80,381.50 L501.26,381.92 L501.72,382.34 L502.18,382.76 L502.64,383.16 L503.10,383.56 L503.56,383.95 L504.02,384.33 L504.48,384.70 L504.94,385.06 L505.40,385.40 L505.92,385.78 L506.44,386.14 L506.95,386.49 L507.46,386.83 L507.97,387.15 L508.50,387.45 L509.03,387.74 L509.58,388.01 L510.14,388.26 L510.68,388.48 L511.24,388.68 L511.81,388.86 L512.39,389.03 L512.97,389.18 L513.57,389.33 L514.17,389.46 L514.78,389.58 L515.40,389.70 L515.98,389.80 L516.57,389.89 L517.18,389.97 L517.78,390.03 L518.40,390.09 L519.02,390.15 L519.64,390.19 L520.26,390.23 L520.88,390.27 L521.50,390.30 L522.11,390.33 L522.73,390.34 L523.36,390.35 L523.99,390.36 L524.62,390.36 L525.24,390.35 L525.85,390.34 L526.44,390.33 L527.02,390.32 L527.57,390.30 L528.22,390.28 L528.88,390.25 L529.50,390.21 L530.10,390.17 L530.68,390.12 L531.26,390.08 L531.85,390.03 L532.46,389.99 L533.12,389.95 L533.82,389.90 L534.54,389.85 L535.23,389.81 L535.86,389.77 L536.40,389.73 L536.82,389.71 L536.90,389.70" fill="none" stroke="#383838" stroke-width="1"/><g fill="#fff" stroke="#383838" stroke-width="1.4"><circle cx="319.81" cy="339.11" r="1.85"/><circle cx="322.80" cy="340.42" r="1.85"/><circle cx="325.56" cy="340.79" r="1.85"/><circle cx="328.40" cy="341.63" r="1.85"/><circle cx="330.70" cy="339.90" r="1.85"/><circle cx="333.21" cy="339.99" r="1.85"/><circle cx="336.14" cy="340.77" r="1.85"/><circle cx="339.13" cy="341.23" r="1.85"/><circle cx="341.63" cy="340.18" r="1.85"/><circle cx="344.43" cy="339.00" r="1.85"/><circle cx="346.78" cy="338.31" r="1.85"/><circle cx="349.69" cy="336.49" r="1.85"/><circle cx="352.23" cy="335.67" r="1.85"/><circle cx="354.75" cy="334.62" r="1.85"/><circle cx="357.60" cy="332.75" r="1.85"/><circle cx="360.46" cy="333.79" r="1.85"/><circle cx="363.12" cy="334.76" r="1.85"/><circle cx="365.98" cy="335.90" r="1.85"/><circle cx="367.77" cy="338.19" r="1.85"/><circle cx="369.80" cy="341.07" r="1.85"/><circle cx="371.85" cy="343.09" r="1.85"/><circle cx="374.31" cy="342.93" r="1.85"/><circle cx="377.17" cy="343.32" r="1.85"/><circle cx="380.02" cy="342.12" r="1.85"/><circle cx="382.61" cy="340.28" r="1.85"/><circle cx="385.44" cy="340.16" r="1.85"/><circle cx="388.32" cy="339.02" r="1.85"/><circle cx="390.82" cy="337.56" r="1.85"/><circle cx="393.51" cy="336.16" r="1.85"/><circle cx="395.95" cy="335.48" r="1.85"/><circle cx="398.61" cy="334.30" r="1.85"/><circle cx="401.57" cy="331.43" r="1.85"/><circle cx="403.81" cy="331.18" r="1.85"/><circle cx="406.43" cy="328.91" r="1.85"/><circle cx="408.46" cy="326.80" r="1.85"/><circle cx="410.95" cy="324.94" r="1.85"/><circle cx="412.89" cy="322.58" r="1.85"/><circle cx="414.70" cy="321.47" r="1.85"/><circle cx="416.34" cy="318.73" r="1.85"/><circle cx="418.25" cy="316.32" r="1.85"/><circle cx="420.21" cy="312.87" r="1.85"/><circle cx="422.42" cy="311.10" r="1.85"/><circle cx="424.20" cy="308.31" r="1.85"/><circle cx="426.52" cy="306.96" r="1.85"/><circle cx="428.58" cy="304.33" r="1.85"/><circle cx="430.55" cy="302.35" r="1.85"/><circle cx="432.64" cy="299.46" r="1.85"/><circle cx="434.49" cy="298.40" r="1.85"/><circle cx="436.09" cy="296.07" r="1.85"/><circle cx="438.22" cy="293.61" r="1.85"/><circle cx="440.38" cy="290.90" r="1.85"/><circle cx="443.19" cy="291.83" r="1.85"/><circle cx="445.97" cy="292.02" r="1.85"/><circle cx="448.19" cy="293.74" r="1.85"/><circle cx="449.90" cy="295.90" r="1.85"/><circle cx="451.95" cy="298.94" r="1.85"/><circle cx="453.51" cy="301.77" r="1.85"/><circle cx="454.75" cy="305.26" r="1.85"/><circle cx="456.18" cy="308.20" r="1.85"/><circle cx="457.87" cy="312.26" r="1.85"/><circle cx="459.07" cy="315.83" r="1.85"/><circle cx="460.40" cy="320.03" r="1.85"/><circle cx="461.57" cy="323.34" r="1.85"/><circle cx="462.67" cy="327.00" r="1.85"/><circle cx="464.13" cy="330.57" r="1.85"/><circle cx="465.56" cy="333.26" r="1.85"/><circle cx="466.96" cy="337.20" r="1.85"/><circle cx="468.80" cy="338.98" r="1.85"/><circle cx="470.74" cy="341.18" r="1.85"/><circle cx="472.67" cy="344.84" r="1.85"/><circle cx="474.33" cy="346.92" r="1.85"/><circle cx="476.27" cy="349.11" r="1.85"/><circle cx="478.26" cy="350.74" r="1.85"/><circle cx="480.08" cy="353.15" r="1.85"/><circle cx="482.27" cy="355.96" r="1.85"/><circle cx="484.03" cy="358.88" r="1.85"/><circle cx="486.24" cy="360.47" r="1.85"/><circle cx="487.33" cy="363.32" r="1.85"/><circle cx="488.79" cy="366.69" r="1.85"/><circle cx="490.65" cy="369.11" r="1.85"/><circle cx="492.55" cy="372.10" r="1.85"/><circle cx="494.62" cy="375.02" r="1.85"/><circle cx="496.26" cy="376.88" r="1.85"/><circle cx="498.41" cy="379.04" r="1.85"/><circle cx="500.52" cy="380.60" r="1.85"/><circle cx="502.67" cy="384.01" r="1.85"/><circle cx="504.91" cy="385.15" r="1.85"/><circle cx="507.51" cy="387.41" r="1.85"/><circle cx="509.89" cy="387.83" r="1.85"/><circle cx="512.58" cy="388.95" r="1.85"/><circle cx="515.52" cy="390.45" r="1.85"/><circle cx="518.54" cy="390.69" r="1.85"/><circle cx="521.15" cy="389.54" r="1.85"/><circle cx="524.39" cy="390.99" r="1.85"/><circle cx="527.15" cy="390.45" r="1.85"/><circle cx="529.90" cy="390.00" r="1.85"/><circle cx="533.12" cy="390.48" r="1.85"/><circle cx="536.00" cy="390.52" r="1.85"/></g>
<g fill="#fff" stroke="#4d4d4d" stroke-width="1.05"><circle cx="329.8" cy="348.2" r="1.75"/><circle cx="320" cy="344.5" r="1.6"/></g>
<path d="M417.00,333.00 L417.12,332.73 L417.27,332.39 L417.44,332.00 L417.63,331.56 L417.84,331.08 L418.06,330.58 L418.30,330.04 L418.54,329.49 L418.78,328.94 L419.03,328.38 L419.27,327.83 L419.50,327.30 L419.70,326.85 L419.89,326.40 L420.08,325.95 L420.28,325.49 L420.47,325.02 L420.67,324.55 L420.88,324.08 L421.08,323.59 L421.30,323.10 L421.52,322.60 L421.75,322.09 L421.99,321.57 L422.24,321.04 L422.50,320.50 L422.70,320.09 L422.91,319.68 L423.12,319.25 L423.33,318.82 L423.55,318.38 L423.78,317.94 L424.00,317.49 L424.24,317.04 L424.47,316.59 L424.71,316.13 L424.96,315.67 L425.20,315.20 L425.45,314.74 L425.71,314.28 L425.96,313.82 L426.22,313.36 L426.48,312.90 L426.74,312.45 L427.00,312.00 L427.25,311.57 L427.51,311.14 L427.78,310.70 L428.05,310.25 L428.33,309.80 L428.61,309.36 L428.89,308.91 L429.18,308.46 L429.46,308.01 L429.75,307.56 L430.04,307.12 L430.32,306.68 L430.61,306.25 L430.89,305.83 L431.17,305.41 L431.45,305.01 L431.72,304.61 L431.99,304.23 L432.25,303.86 L432.50,303.50 L432.85,303.01 L433.19,302.53 L433.53,302.07 L433.85,301.63 L434.17,301.20 L434.48,300.79 L434.79,300.39 L435.10,300.00 L435.41,299.63 L435.72,299.28 L436.03,298.94 L436.35,298.61 L436.67,298.30 L437.00,298.00 L437.43,297.63 L437.87,297.28 L438.31,296.93 L438.76,296.61 L439.21,296.32 L439.66,296.05 L440.10,295.82 L440.54,295.62 L440.97,295.47 L441.39,295.36 L441.80,295.30 L442.34,295.31 L442.86,295.42 L443.37,295.61 L443.86,295.87 L444.35,296.18 L444.83,296.54 L445.32,296.91 L445.80,297.30 L446.15,297.59 L446.51,297.91 L446.86,298.24 L447.21,298.60 L447.56,298.97 L447.91,299.36 L448.26,299.76 L448.60,300.18 L448.94,300.61 L449.27,301.05 L449.60,301.50 L449.87,301.89 L450.14,302.29 L450.41,302.70 L450.67,303.13 L450.93,303.56 L451.19,304.00 L451.45,304.45 L451.70,304.91 L451.96,305.37 L452.22,305.85 L452.48,306.33 L452.74,306.81 L453.00,307.30 L453.23,307.73 L453.46,308.16 L453.69,308.60 L453.92,309.05 L454.14,309.50 L454.37,309.96 L454.60,310.42 L454.83,310.88 L455.07,311.36 L455.30,311.83 L455.54,312.32 L455.77,312.80 L456.01,313.30 L456.25,313.80 L456.50,314.30 L456.71,314.73 L456.92,315.16 L457.13,315.60 L457.34,316.05 L457.56,316.50 L457.77,316.96 L457.99,317.42 L458.21,317.89 L458.43,318.36 L458.65,318.82 L458.87,319.29 L459.09,319.76 L459.31,320.23 L459.53,320.69 L459.75,321.15 L459.97,321.60 L460.19,322.06 L460.40,322.50 L460.63,322.97 L460.86,323.44 L461.10,323.92 L461.33,324.40 L461.57,324.87 L461.81,325.35 L462.05,325.83 L462.29,326.30 L462.52,326.76 L462.75,327.23 L462.98,327.68 L463.20,328.13 L463.42,328.56 L463.63,328.99 L463.83,329.41 L464.02,329.81 L464.20,330.20 L464.46,330.76 L464.68,331.26 L464.89,331.72 L465.07,332.16 L465.25,332.57 L465.42,332.99 L465.59,333.42 L465.76,333.87 L465.95,334.36 L466.16,334.90 L466.40,335.50 L466.56,335.90 L466.72,336.32 L466.89,336.76 L467.06,337.22 L467.24,337.69 L467.42,338.17 L467.60,338.67 L467.79,339.17 L467.98,339.68 L468.17,340.20 L468.37,340.72 L468.56,341.24 L468.75,341.76 L468.95,342.28 L469.14,342.79 L469.33,343.30 L469.52,343.81 L469.70,344.30 L469.88,344.79 L470.07,345.28 L470.25,345.77 L470.43,346.26 L470.62,346.74 L470.80,347.23 L470.98,347.72 L471.17,348.21 L471.35,348.70 L471.53,349.19 L471.72,349.68 L471.90,350.17 L472.08,350.66 L472.27,351.14 L472.45,351.63 L472.63,352.12 L472.82,352.61 L473.00,353.10 L473.18,353.59 L473.37,354.09 L473.55,354.59 L473.73,355.10 L473.92,355.61 L474.10,356.12 L474.28,356.63 L474.47,357.14 L474.65,357.65 L474.83,358.15 L475.02,358.65 L475.20,359.14 L475.38,359.63 L475.57,360.11 L475.75,360.57 L475.93,361.03 L476.12,361.47 L476.30,361.90 L476.54,362.43 L476.77,362.95 L477.01,363.44 L477.24,363.92 L477.47,364.39 L477.71,364.85 L477.94,365.29 L478.18,365.73 L478.41,366.16 L478.65,366.59 L478.89,367.02 L479.12,367.44 L479.36,367.87 L479.60,368.30 L479.86,368.76 L480.11,369.22 L480.37,369.68 L480.62,370.13 L480.87,370.58 L481.13,371.02 L481.38,371.46 L481.64,371.89 L481.91,372.32 L482.17,372.75 L482.44,373.17 L482.72,373.59 L483.00,374.00 L483.31,374.44 L483.63,374.89 L483.95,375.33 L484.27,375.76 L484.60,376.19 L484.93,376.62 L485.27,377.04 L485.61,377.45 L485.95,377.85 L486.30,378.24 L486.65,378.63 L487.00,379.00 L487.39,379.39 L487.78,379.78 L488.18,380.15 L488.58,380.51 L488.98,380.86 L489.39,381.21 L489.81,381.54 L490.22,381.87 L490.64,382.19 L491.07,382.50 L491.50,382.80 L491.93,383.10 L492.37,383.38 L492.81,383.66 L493.26,383.93 L493.71,384.19 L494.17,384.44 L494.62,384.68 L495.09,384.92 L495.55,385.15 L496.02,385.38 L496.50,385.60 L496.98,385.81 L497.46,386.02 L497.95,386.22 L498.44,386.41 L498.94,386.60 L499.44,386.78 L499.94,386.95 L500.45,387.12 L500.96,387.28 L501.48,387.44 L502.00,387.60 L502.48,387.74 L502.97,387.87 L503.46,388.00 L503.96,388.12 L504.46,388.24 L504.97,388.35 L505.47,388.46 L505.98,388.57 L506.49,388.68 L506.99,388.79 L507.50,388.89 L508.00,389.00 L508.50,389.11 L509.00,389.22 L509.50,389.32 L510.00,389.43 L510.50,389.53 L511.00,389.64 L511.50,389.74 L512.00,389.84 L512.50,389.93 L513.00,390.03 L513.50,390.11 L514.00,390.20 L514.52,390.28 L515.07,390.37 L515.64,390.45 L516.22,390.53 L516.80,390.60 L517.38,390.67 L517.93,390.74 L518.44,390.81 L518.92,390.87 L519.35,390.92 L519.71,390.96 L520.00,391.00 L520.00,393.81 L519.00,393.81 L518.00,393.82 L517.00,393.82 L516.00,393.82 L515.00,393.83 L514.00,393.83 L513.00,393.83 L512.00,393.84 L511.00,393.84 L510.00,393.84 L509.00,393.85 L508.00,393.85 L507.00,393.85 L506.00,393.85 L505.00,393.85 L504.00,393.85 L503.00,393.85 L502.00,393.85 L501.00,393.85 L500.00,393.85 L499.00,393.85 L498.00,393.85 L497.00,393.84 L496.00,393.84 L495.00,393.84 L494.00,393.83 L493.00,393.82 L492.00,393.81 L491.00,393.80 L490.00,393.79 L489.00,393.77 L488.00,393.76 L487.00,393.74 L486.00,393.72 L485.00,393.69 L484.00,393.67 L483.00,393.63 L482.00,393.59 L481.00,393.55 L480.00,393.50 L479.00,393.44 L478.00,393.38 L477.00,393.31 L476.00,393.24 L475.00,393.17 L474.00,393.10 L473.00,393.02 L472.00,392.94 L471.00,392.86 L470.00,392.78 L469.00,392.69 L468.00,392.60 L467.00,392.50 L466.00,392.40 L465.00,392.29 L464.00,392.17 L463.00,392.04 L462.00,391.91 L461.00,391.76 L460.00,391.60 L459.00,391.42 L458.00,391.22 L457.00,391.00 L456.00,390.75 L455.00,390.49 L454.00,390.21 L453.00,389.92 L452.00,389.63 L451.00,389.34 L450.00,389.07 L449.00,388.80 L448.00,388.55 L447.00,388.31 L446.00,388.07 L445.00,387.84 L444.00,387.61 L443.00,387.39 L442.00,387.15 L441.00,386.92 L440.00,386.68 L439.00,386.44 L438.00,386.18 L437.00,385.92 L436.00,385.64 L435.00,385.35 L434.00,385.04 L433.00,384.71 L432.00,384.37 L431.00,384.02 L430.00,383.65 L429.00,383.27 L428.00,382.87 L427.00,382.46 L426.00,382.03 L425.00,381.58 L424.00,381.12 L423.00,380.64 L422.00,380.15 L421.00,379.63 L420.00,379.07 L419.00,378.49 L418.00,377.88 L417.00,377.26Z" fill="#800000"/>
<path d="M319.00,340.50 L319.27,340.53 L319.58,340.57 L319.92,340.61 L320.30,340.65 L320.71,340.70 L321.15,340.75 L321.62,340.80 L322.11,340.86 L322.62,340.91 L323.14,340.97 L323.69,341.04 L324.24,341.10 L324.81,341.17 L325.39,341.24 L325.97,341.30 L326.56,341.37 L327.14,341.44 L327.73,341.52 L328.31,341.59 L328.88,341.66 L329.45,341.73 L330.00,341.80 L330.47,341.86 L330.94,341.92 L331.42,341.98 L331.90,342.05 L332.39,342.11 L332.88,342.18 L333.38,342.24 L333.89,342.31 L334.39,342.38 L334.90,342.45 L335.41,342.52 L335.92,342.59 L336.44,342.66 L336.95,342.73 L337.47,342.80 L337.98,342.87 L338.50,342.94 L339.01,343.02 L339.52,343.09 L340.03,343.16 L340.53,343.23 L341.04,343.31 L341.53,343.38 L342.03,343.45 L342.52,343.53 L343.00,343.60 L343.52,343.68 L344.03,343.76 L344.54,343.84 L345.05,343.93 L345.55,344.01 L346.05,344.10 L346.54,344.18 L347.04,344.27 L347.53,344.35 L348.02,344.44 L348.51,344.53 L349.00,344.61 L349.49,344.70 L349.98,344.78 L350.47,344.87 L350.96,344.96 L351.46,345.04 L351.95,345.12 L352.45,345.21 L352.95,345.29 L353.46,345.37 L353.97,345.45 L354.48,345.52 L355.00,345.60 L355.49,345.67 L355.99,345.74 L356.50,345.81 L357.02,345.89 L357.54,345.96 L358.08,346.04 L358.61,346.11 L359.16,346.19 L359.70,346.26 L360.25,346.34 L360.79,346.41 L361.33,346.48 L361.88,346.55 L362.41,346.62 L362.94,346.68 L363.46,346.75 L363.98,346.81 L364.48,346.87 L364.98,346.92 L365.46,346.98 L365.92,347.02 L366.38,347.07 L366.81,347.11 L367.23,347.14 L367.62,347.17 L368.00,347.20 L368.74,347.24 L369.40,347.27 L369.98,347.27 L370.50,347.27 L370.98,347.25 L371.41,347.21 L371.83,347.17 L372.23,347.11 L372.64,347.05 L373.06,346.97 L373.51,346.89 L374.00,346.80 L374.48,346.71 L374.95,346.61 L375.42,346.51 L375.90,346.39 L376.37,346.27 L376.85,346.14 L377.34,346.00 L377.83,345.85 L378.32,345.70 L378.83,345.53 L379.34,345.36 L379.86,345.18 L380.40,345.00 L380.85,344.84 L381.30,344.68 L381.76,344.51 L382.23,344.33 L382.71,344.15 L383.19,343.96 L383.68,343.77 L384.17,343.57 L384.66,343.37 L385.16,343.17 L385.65,342.96 L386.14,342.75 L386.64,342.54 L387.13,342.33 L387.62,342.12 L388.10,341.90 L388.55,341.70 L389.01,341.49 L389.46,341.28 L389.91,341.07 L390.36,340.86 L390.82,340.64 L391.27,340.43 L391.72,340.20 L392.18,339.98 L392.63,339.76 L393.08,339.53 L393.54,339.30 L393.99,339.06 L394.44,338.83 L394.89,338.59 L395.35,338.35 L395.80,338.10 L396.25,337.85 L396.71,337.59 L397.16,337.33 L397.61,337.06 L398.06,336.78 L398.52,336.51 L398.97,336.23 L399.42,335.95 L399.88,335.67 L400.33,335.38 L400.78,335.10 L401.24,334.83 L401.69,334.55 L402.14,334.28 L402.59,334.01 L403.05,333.75 L403.50,333.50 L403.96,333.25 L404.42,333.00 L404.90,332.74 L405.37,332.49 L405.85,332.23 L406.33,331.98 L406.82,331.73 L407.29,331.48 L407.77,331.24 L408.24,331.01 L408.70,330.78 L409.15,330.56 L409.59,330.34 L410.01,330.14 L410.43,329.95 L410.82,329.77 L411.20,329.60 L411.80,329.34 L412.34,329.12 L412.85,328.93 L413.32,328.76 L413.77,328.61 L414.21,328.48 L414.64,328.36 L415.08,328.24 L415.53,328.12 L416.00,328.00 L416.54,327.86 L417.10,327.73 L417.66,327.61 L418.21,327.49 L418.77,327.39 L419.32,327.29 L419.86,327.21 L420.39,327.15 L420.90,327.10 L421.45,327.07 L421.98,327.05 L422.49,327.06 L422.99,327.08 L423.48,327.12 L423.98,327.17 L424.48,327.23 L425.00,327.30 L425.52,327.38 L426.04,327.46 L426.56,327.55 L427.08,327.65 L427.61,327.77 L428.16,327.92 L428.72,328.09 L429.30,328.30 L429.74,328.47 L430.19,328.66 L430.65,328.86 L431.11,329.07 L431.59,329.29 L432.07,329.53 L432.55,329.78 L433.04,330.05 L433.52,330.32 L434.01,330.61 L434.50,330.90 L434.91,331.16 L435.33,331.42 L435.75,331.68 L436.17,331.96 L436.59,332.24 L437.02,332.53 L437.44,332.83 L437.87,333.14 L438.30,333.47 L438.72,333.80 L439.15,334.15 L439.58,334.52 L440.00,334.90 L440.34,335.22 L440.69,335.56 L441.03,335.91 L441.38,336.27 L441.72,336.63 L442.06,337.01 L442.41,337.40 L442.75,337.79 L443.09,338.18 L443.44,338.58 L443.78,338.99 L444.12,339.39 L444.47,339.80 L444.81,340.20 L445.16,340.60 L445.50,341.00 L445.82,341.37 L446.15,341.75 L446.47,342.12 L446.79,342.50 L447.12,342.87 L447.44,343.25 L447.76,343.63 L448.09,344.01 L448.41,344.39 L448.74,344.78 L449.06,345.17 L449.38,345.56 L449.71,345.96 L450.03,346.36 L450.35,346.77 L450.68,347.18 L451.00,347.60 L451.31,348.00 L451.61,348.41 L451.92,348.83 L452.22,349.26 L452.53,349.69 L452.83,350.13 L453.14,350.57 L453.44,351.01 L453.75,351.45 L454.06,351.89 L454.36,352.33 L454.67,352.77 L454.97,353.21 L455.28,353.64 L455.58,354.07 L455.89,354.49 L456.19,354.90 L456.50,355.30 L456.82,355.72 L457.15,356.13 L457.47,356.54 L457.79,356.95 L458.12,357.36 L458.44,357.76 L458.76,358.15 L459.09,358.54 L459.41,358.93 L459.74,359.32 L460.06,359.70 L460.38,360.07 L460.71,360.45 L461.03,360.82 L461.35,361.18 L461.68,361.54 L462.00,361.90 L462.37,362.30 L462.73,362.69 L463.10,363.07 L463.47,363.45 L463.83,363.81 L464.20,364.18 L464.57,364.54 L464.93,364.90 L465.30,365.25 L465.67,365.61 L466.03,365.96 L466.40,366.32 L466.77,366.68 L467.13,367.04 L467.50,367.40 L467.87,367.77 L468.23,368.14 L468.60,368.52 L468.97,368.90 L469.33,369.27 L469.70,369.65 L470.07,370.03 L470.43,370.41 L470.80,370.78 L471.17,371.15 L471.53,371.51 L471.90,371.87 L472.27,372.22 L472.63,372.57 L473.00,372.90 L473.39,373.25 L473.79,373.59 L474.19,373.93 L474.60,374.25 L475.00,374.58 L475.40,374.89 L475.81,375.21 L476.21,375.51 L476.60,375.82 L476.99,376.12 L477.38,376.42 L477.76,376.71 L478.13,377.01 L478.50,377.30 L478.94,377.67 L479.35,378.02 L479.74,378.36 L480.11,378.70 L480.48,379.03 L480.85,379.36 L481.24,379.69 L481.65,380.03 L482.09,380.37 L482.57,380.73 L483.10,381.10 L483.47,381.35 L483.87,381.61 L484.28,381.88 L484.71,382.16 L485.15,382.44 L485.61,382.73 L486.07,383.02 L486.55,383.31 L487.03,383.59 L487.51,383.88 L487.99,384.15 L488.48,384.42 L488.96,384.68 L489.43,384.93 L489.90,385.17 L490.36,385.39 L490.80,385.60 L491.29,385.82 L491.78,386.01 L492.26,386.20 L492.73,386.37 L493.20,386.53 L493.67,386.68 L494.14,386.83 L494.60,386.96 L495.07,387.09 L495.54,387.21 L496.02,387.33 L496.50,387.45 L496.99,387.56 L497.49,387.68 L498.00,387.80 L498.47,387.91 L498.93,388.01 L499.37,388.11 L499.81,388.21 L500.25,388.30 L500.69,388.39 L501.14,388.48 L501.59,388.56 L502.07,388.64 L502.56,388.72 L503.08,388.80 L503.63,388.88 L504.21,388.96 L504.83,389.04 L505.49,389.12 L506.20,389.20 L506.60,389.24 L507.03,389.29 L507.47,389.33 L507.94,389.38 L508.42,389.43 L508.91,389.47 L509.43,389.52 L509.95,389.57 L510.48,389.61 L511.03,389.66 L511.58,389.71 L512.14,389.75 L512.70,389.80 L513.26,389.84 L513.83,389.89 L514.40,389.93 L514.97,389.97 L515.53,390.02 L516.09,390.06 L516.64,390.10 L517.19,390.13 L517.72,390.17 L518.25,390.21 L518.76,390.24 L519.26,390.27 L519.75,390.30 L520.21,390.33 L520.66,390.36 L521.09,390.38 L521.50,390.40 L522.18,390.43 L522.82,390.46 L523.43,390.48 L524.00,390.50 L524.54,390.51 L525.06,390.51 L525.56,390.52 L526.04,390.51 L526.50,390.51 L526.95,390.50 L527.38,390.49 L527.82,390.48 L528.25,390.47 L528.68,390.45 L529.11,390.43 L529.55,390.42 L530.00,390.40 L530.56,390.37 L531.14,390.34 L531.73,390.30 L532.31,390.25 L532.90,390.21 L533.47,390.15 L534.03,390.10 L534.57,390.05 L535.08,389.99 L535.55,389.95 L535.99,389.90 L536.38,389.86 L536.72,389.83 L537.00,389.80 L537.00,392.00 L536.00,392.31 L535.00,392.63 L534.00,392.93 L533.00,393.19 L532.00,393.41 L531.00,393.57 L530.00,393.69 L529.00,393.76 L528.00,393.80 L527.00,393.80 L526.00,393.80 L525.00,393.80 L524.00,393.79 L523.00,393.80 L522.00,393.80 L521.00,393.80 L520.00,393.81 L519.00,393.81 L518.00,393.82 L517.00,393.82 L516.00,393.82 L515.00,393.83 L514.00,393.83 L513.00,393.83 L512.00,393.84 L511.00,393.84 L510.00,393.84 L509.00,393.85 L508.00,393.85 L507.00,393.85 L506.00,393.85 L505.00,393.85 L504.00,393.85 L503.00,393.85 L502.00,393.85 L501.00,393.85 L500.00,393.85 L499.00,393.85 L498.00,393.85 L497.00,393.84 L496.00,393.84 L495.00,393.84 L494.00,393.83 L493.00,393.82 L492.00,393.81 L491.00,393.80 L490.00,393.79 L489.00,393.77 L488.00,393.76 L487.00,393.74 L486.00,393.72 L485.00,393.69 L484.00,393.67 L483.00,393.63 L482.00,393.59 L481.00,393.55 L480.00,393.50 L479.00,393.44 L478.00,393.38 L477.00,393.31 L476.00,393.24 L475.00,393.17 L474.00,393.10 L473.00,393.02 L472.00,392.94 L471.00,392.86 L470.00,392.78 L469.00,392.69 L468.00,392.60 L467.00,392.50 L466.00,392.40 L465.00,392.29 L464.00,392.17 L463.00,392.04 L462.00,391.91 L461.00,391.76 L460.00,391.60 L459.00,391.42 L458.00,391.22 L457.00,391.00 L456.00,390.75 L455.00,390.49 L454.00,390.21 L453.00,389.92 L452.00,389.63 L451.00,389.34 L450.00,389.07 L449.00,388.80 L448.00,388.55 L447.00,388.31 L446.00,388.07 L445.00,387.84 L444.00,387.61 L443.00,387.39 L442.00,387.15 L441.00,386.92 L440.00,386.68 L439.00,386.44 L438.00,386.18 L437.00,385.92 L436.00,385.64 L435.00,385.35 L434.00,385.04 L433.00,384.71 L432.00,384.37 L431.00,384.02 L430.00,383.65 L429.00,383.27 L428.00,382.87 L427.00,382.46 L426.00,382.03 L425.00,381.58 L424.00,381.12 L423.00,380.64 L422.00,380.15 L421.00,379.63 L420.00,379.07 L419.00,378.49 L418.00,377.88 L417.00,377.26 L416.00,376.63 L415.00,376.00 L414.00,375.37 L413.00,374.75 L412.00,374.14 L411.00,373.56 L410.00,373.00 L409.00,372.45 L408.00,371.91 L407.00,371.38 L406.00,370.84 L405.00,370.32 L404.00,369.80 L403.00,369.28 L402.00,368.78 L401.00,368.27 L400.00,367.78 L399.00,367.30 L398.00,366.82 L397.00,366.35 L396.00,365.89 L395.00,365.44 L394.00,365.00 L393.00,364.56 L392.00,364.12 L391.00,363.70 L390.00,363.28 L389.00,362.86 L388.00,362.46 L387.00,362.05 L386.00,361.66 L385.00,361.27 L384.00,360.89 L383.00,360.52 L382.00,360.16 L381.00,359.81 L380.00,359.47 L379.00,359.14 L378.00,358.83 L377.00,358.54 L376.00,358.28 L375.00,358.03 L374.00,357.79 L373.00,357.57 L372.00,357.34 L371.00,357.11 L370.00,356.88 L369.00,356.64 L368.00,356.40 L367.00,356.16 L366.00,355.92 L365.00,355.69 L364.00,355.46 L363.00,355.23 L362.00,355.00 L361.00,354.78 L360.00,354.55 L359.00,354.32 L358.00,354.10 L357.00,353.87 L356.00,353.64 L355.00,353.41 L354.00,353.18 L353.00,352.95 L352.00,352.72 L351.00,352.48 L350.00,352.25 L349.00,352.01 L348.00,351.77 L347.00,351.52 L346.00,351.27 L345.00,351.02 L344.00,350.76 L343.00,350.50 L342.00,350.23 L341.00,349.96 L340.00,349.68 L339.00,349.40 L338.00,349.11 L337.00,348.83 L336.00,348.54 L335.00,348.24 L334.00,347.95 L333.00,347.65 L332.00,347.35 L331.00,347.05 L330.00,346.75 L329.00,346.45 L328.00,346.14 L327.00,345.84 L326.00,345.53 L325.00,345.23 L324.00,344.92 L323.00,344.62 L322.00,344.31 L321.00,344.00 L320.00,343.70 L319.00,343.40Z" fill="#009200"/>
<path d="M340.00,344.90 L340.34,344.78 L340.85,344.57 L341.60,344.10 L341.91,343.85 L342.27,343.54 L342.65,343.19 L343.06,342.81 L343.49,342.42 L343.93,342.02 L344.38,341.62 L344.84,341.25 L345.30,340.90 L345.72,340.61 L346.15,340.32 L346.59,340.04 L347.04,339.76 L347.49,339.49 L347.95,339.23 L348.42,338.96 L348.88,338.71 L349.34,338.45 L349.80,338.20 L350.26,337.95 L350.72,337.70 L351.18,337.45 L351.64,337.21 L352.10,336.97 L352.56,336.74 L353.02,336.51 L353.48,336.30 L353.94,336.09 L354.40,335.90 L354.90,335.69 L355.40,335.49 L355.90,335.30 L356.40,335.11 L356.90,334.94 L357.40,334.79 L357.90,334.67 L358.40,334.57 L358.90,334.50 L359.41,334.46 L359.93,334.45 L360.46,334.46 L360.99,334.49 L361.52,334.55 L362.04,334.63 L362.54,334.73 L363.03,334.86 L363.50,335.00 L364.00,335.19 L364.49,335.40 L364.95,335.65 L365.41,335.92 L365.85,336.22 L366.27,336.55 L366.69,336.91 L367.10,337.30 L367.42,337.64 L367.73,338.00 L368.03,338.38 L368.32,338.78 L368.61,339.20 L368.89,339.64 L369.17,340.08 L369.44,340.55 L369.72,341.02 L370.00,341.50 L370.24,341.93 L370.49,342.41 L370.75,342.91 L371.01,343.44 L371.28,343.98 L371.53,344.51 L371.78,345.03 L372.01,345.53 L372.22,345.98 L372.41,346.39 L372.57,346.73 L372.70,347.00 L372.70,347.03 L371.70,347.18 L370.70,347.26 L369.70,347.27 L368.70,347.24 L367.70,347.18 L366.70,347.10 L365.70,347.00 L364.70,346.89 L363.70,346.78 L362.70,346.65 L361.70,346.53 L360.70,346.40 L359.70,346.26 L358.70,346.12 L357.70,345.98 L356.70,345.84 L355.70,345.70 L354.70,345.56 L353.70,345.41 L352.70,345.25 L351.70,345.08 L350.70,344.91 L349.70,344.74 L348.70,344.56 L347.70,344.38 L346.70,344.21 L345.70,344.04 L344.70,343.87 L343.70,343.71 L342.70,343.55 L341.70,343.41 L340.70,343.26 L340.00,343.16Z" fill="#4640f8"/>
<path d="M319.00,343.40 L319.50,343.55 L320.00,343.70 L320.50,343.85 L321.00,344.00 L321.50,344.16 L322.00,344.31 L322.50,344.46 L323.00,344.62 L323.50,344.77 L324.00,344.92 L324.50,345.08 L325.00,345.23 L325.50,345.38 L326.00,345.53 L326.50,345.69 L327.00,345.84 L327.50,345.99 L328.00,346.14 L328.50,346.30 L329.00,346.45 L329.50,346.60 L330.00,346.75 L330.50,346.90 L331.00,347.05 L331.50,347.20 L332.00,347.35 L332.50,347.50 L333.00,347.65 L333.50,347.80 L334.00,347.95 L334.50,348.10 L335.00,348.24 L335.50,348.39 L336.00,348.54 L336.50,348.68 L337.00,348.83 L337.50,348.97 L338.00,349.11 L338.50,349.26 L339.00,349.40 L339.50,349.54 L340.00,349.68 L340.50,349.82 L341.00,349.96 L341.50,350.10 L342.00,350.23 L342.50,350.37 L343.00,350.50 L343.50,350.63 L344.00,350.76 L344.50,350.89 L345.00,351.02 L345.50,351.15 L346.00,351.27 L346.50,351.40 L347.00,351.52 L347.50,351.64 L348.00,351.77 L348.50,351.89 L349.00,352.01 L349.50,352.13 L350.00,352.25 L350.50,352.37 L351.00,352.48 L351.50,352.60 L352.00,352.72 L352.50,352.84 L353.00,352.95 L353.50,353.07 L354.00,353.18 L354.50,353.30 L355.00,353.41 L355.50,353.53 L356.00,353.64 L356.50,353.76 L357.00,353.87 L357.50,353.98 L358.00,354.10 L358.50,354.21 L359.00,354.32 L359.50,354.44 L360.00,354.55 L360.50,354.66 L361.00,354.78 L361.50,354.89 L362.00,355.00 L362.50,355.12 L363.00,355.23 L363.50,355.35 L364.00,355.46 L364.50,355.58 L365.00,355.69 L365.50,355.81 L366.00,355.92 L366.50,356.04 L367.00,356.16 L367.50,356.28 L368.00,356.40 L368.50,356.52 L369.00,356.64 L369.50,356.76 L370.00,356.88 L370.50,356.99 L371.00,357.11 L371.50,357.22 L372.00,357.34 L372.50,357.45 L373.00,357.57 L373.50,357.68 L374.00,357.79 L374.50,357.91 L375.00,358.03 L375.50,358.15 L376.00,358.28 L376.50,358.41 L377.00,358.54 L377.50,358.69 L378.00,358.83 L378.50,358.98 L379.00,359.14 L379.50,359.30 L380.00,359.47 L380.50,359.63 L381.00,359.81 L381.50,359.98 L382.00,360.16 L382.50,360.34 L383.00,360.52 L383.50,360.70 L384.00,360.89 L384.50,361.08 L385.00,361.27 L385.50,361.46 L386.00,361.66 L386.50,361.86 L387.00,362.05 L387.50,362.25 L388.00,362.46 L388.50,362.66 L389.00,362.86 L389.50,363.07 L390.00,363.28 L390.50,363.49 L391.00,363.70 L391.50,363.91 L392.00,364.12 L392.50,364.34 L393.00,364.56 L393.50,364.78 L394.00,365.00 L394.50,365.22 L395.00,365.44 L395.50,365.66 L396.00,365.89 L396.50,366.12 L397.00,366.35 L397.50,366.58 L398.00,366.82 L398.50,367.06 L399.00,367.30 L399.50,367.54 L400.00,367.78 L400.50,368.03 L401.00,368.27 L401.50,368.52 L402.00,368.78 L402.50,369.03 L403.00,369.28 L403.50,369.54 L404.00,369.80 L404.50,370.06 L405.00,370.32 L405.50,370.58 L406.00,370.84 L406.50,371.11 L407.00,371.38 L407.50,371.64 L408.00,371.91 L408.50,372.18 L409.00,372.45 L409.50,372.73 L410.00,373.00 L410.50,373.28 L411.00,373.56 L411.50,373.85 L412.00,374.14 L412.50,374.44 L413.00,374.75 L413.50,375.06 L414.00,375.37 L414.50,375.68 L415.00,376.00 L415.50,376.31 L416.00,376.63 L416.50,376.95 L417.00,377.26 L417.50,377.57 L418.00,377.88 L418.50,378.19 L419.00,378.49 L419.50,378.78 L420.00,379.07 L420.50,379.35 L421.00,379.63 L421.50,379.89 L422.00,380.15 L422.50,380.40 L423.00,380.64 L423.50,380.89 L424.00,381.12 L424.50,381.36 L425.00,381.58 L425.50,381.81 L426.00,382.03 L426.50,382.25 L427.00,382.46 L427.50,382.67 L428.00,382.87 L428.50,383.07 L429.00,383.27 L429.50,383.46 L430.00,383.65 L430.50,383.83 L431.00,384.02 L431.50,384.19 L432.00,384.37 L432.50,384.54 L433.00,384.71 L433.50,384.87 L434.00,385.04 L434.50,385.19 L435.00,385.35 L435.50,385.50 L436.00,385.64 L436.50,385.78 L437.00,385.92 L437.50,386.05 L438.00,386.18 L438.50,386.31 L439.00,386.44 L439.50,386.56 L440.00,386.68 L440.50,386.80 L441.00,386.92 L441.50,387.04 L442.00,387.15 L442.50,387.27 L443.00,387.39 L443.50,387.50 L444.00,387.61 L444.50,387.73 L445.00,387.84 L445.50,387.96 L446.00,388.07 L446.50,388.19 L447.00,388.31 L447.50,388.43 L448.00,388.55 L448.50,388.68 L449.00,388.80 L449.50,388.93 L450.00,389.07 L450.50,389.20 L451.00,389.34 L451.50,389.49 L452.00,389.63 L452.50,389.77 L453.00,389.92 L453.50,390.06 L454.00,390.21 L454.50,390.35 L455.00,390.49 L455.50,390.62 L456.00,390.75 L456.50,390.88 L457.00,391.00 L457.50,391.11 L458.00,391.22 L458.50,391.32 L459.00,391.42 L459.50,391.51 L460.00,391.60 L460.50,391.68 L461.00,391.76 L461.50,391.83 L462.00,391.91 L462.50,391.98 L463.00,392.04 L463.50,392.11 L464.00,392.17 L464.50,392.23 L465.00,392.29 L465.50,392.34 L466.00,392.40 L466.50,392.45 L467.00,392.50 L467.50,392.55 L468.00,392.60 L468.50,392.64 L469.00,392.69 L469.50,392.73 L470.00,392.78 L470.50,392.82 L471.00,392.86 L471.50,392.90 L472.00,392.94 L472.50,392.98 L473.00,393.02 L473.50,393.06 L474.00,393.10 L474.50,393.13 L475.00,393.17 L475.50,393.21 L476.00,393.24 L476.50,393.28 L477.00,393.31 L477.50,393.35 L478.00,393.38 L478.50,393.41 L479.00,393.44 L479.50,393.47 L480.00,393.50 L480.50,393.52 L481.00,393.55 L481.50,393.57 L482.00,393.59 L482.50,393.61 L483.00,393.63 L483.50,393.65 L484.00,393.67 L484.50,393.68 L485.00,393.69 L485.50,393.71 L486.00,393.72 L486.50,393.73 L487.00,393.74 L487.50,393.75 L488.00,393.76 L488.50,393.77 L489.00,393.77 L489.50,393.78 L490.00,393.79 L490.50,393.80 L491.00,393.80 L491.50,393.81 L492.00,393.81 L492.50,393.82 L493.00,393.82 L493.50,393.83 L494.00,393.83 L494.50,393.83 L495.00,393.84 L495.50,393.84 L496.00,393.84 L496.50,393.84 L497.00,393.84 L497.50,393.85 L498.00,393.85 L498.50,393.85 L499.00,393.85 L499.50,393.85 L500.00,393.85 L500.50,393.85 L501.00,393.85 L501.50,393.85 L502.00,393.85 L502.50,393.85 L503.00,393.85 L503.50,393.85 L504.00,393.85 L504.50,393.85 L505.00,393.85 L505.50,393.85 L506.00,393.85 L506.50,393.85 L507.00,393.85 L507.50,393.85 L508.00,393.85 L508.50,393.85 L509.00,393.85 L509.50,393.84 L510.00,393.84 L510.50,393.84 L511.00,393.84 L511.50,393.84 L512.00,393.84 L512.50,393.84 L513.00,393.83 L513.50,393.83 L514.00,393.83 L514.50,393.83 L515.00,393.83 L515.50,393.83 L516.00,393.82 L516.50,393.82 L517.00,393.82 L517.50,393.82 L518.00,393.82 L518.50,393.81 L519.00,393.81 L519.50,393.81 L520.00,393.81 L520.50,393.80 L521.00,393.80 L521.50,393.80 L522.00,393.80 L522.50,393.80 L523.00,393.80 L523.50,393.79 L524.00,393.79 L524.50,393.79 L525.00,393.80 L525.50,393.80 L526.00,393.80 L526.50,393.80 L527.00,393.80 L527.50,393.80 L528.00,393.80 L528.50,393.79 L529.00,393.76 L529.50,393.73 L530.00,393.69 L530.50,393.63 L531.00,393.57 L531.50,393.50 L532.00,393.41 L532.50,393.31 L533.00,393.19 L533.50,393.06 L534.00,392.93 L534.50,392.78 L535.00,392.63 L535.50,392.47 L536.00,392.31 L536.50,392.15 L537.00,392.00 L537.50,392.00" fill="none" stroke="#000" stroke-width="2.2"/>
<rect x="319.0" y="232.0" width="219.75" height="177.89999999999998" fill="none" stroke="#000" stroke-width="2"/>
<line x1="538.6" y1="409.9" x2="538.6" y2="413.2" stroke="#000" stroke-width="1.6"/>
<text x="538.6" y="424.6" font-size="10.9" text-anchor="middle" font-family="Liberation Sans, sans-serif" font-weight="bold">630</text>
<line x1="502.0" y1="409.9" x2="502.0" y2="413.2" stroke="#000" stroke-width="1.6"/>
<text x="502.0" y="424.6" font-size="10.9" text-anchor="middle" font-family="Liberation Sans, sans-serif" font-weight="bold">635</text>
<line x1="465.4" y1="409.9" x2="465.4" y2="413.2" stroke="#000" stroke-width="1.6"/>
<text x="465.4" y="424.6" font-size="10.9" text-anchor="middle" font-family="Liberation Sans, sans-serif" font-weight="bold">640</text>
<line x1="428.8" y1="409.9" x2="428.8" y2="413.2" stroke="#000" stroke-width="1.6"/>
<text x="428.8" y="424.6" font-size="10.9" text-anchor="middle" font-family="Liberation Sans, sans-serif" font-weight="bold">645</text>
<line x1="392.2" y1="409.9" x2="392.2" y2="413.2" stroke="#000" stroke-width="1.6"/>
<text x="392.2" y="424.6" font-size="10.9" text-anchor="middle" font-family="Liberation Sans, sans-serif" font-weight="bold">650</text>
<line x1="355.6" y1="409.9" x2="355.6" y2="413.2" stroke="#000" stroke-width="1.6"/>
<text x="355.6" y="424.6" font-size="10.9" text-anchor="middle" font-family="Liberation Sans, sans-serif" font-weight="bold">655</text>
<line x1="319.0" y1="409.9" x2="319.0" y2="413.2" stroke="#000" stroke-width="1.6"/>
<text x="319.0" y="424.6" font-size="10.9" text-anchor="middle" font-family="Liberation Sans, sans-serif" font-weight="bold">660</text>
<line x1="520.3" y1="409.9" x2="520.3" y2="411.7" stroke="#000" stroke-width="1.2"/>
<line x1="483.7" y1="409.9" x2="483.7" y2="411.7" stroke="#000" stroke-width="1.2"/>
<line x1="447.1" y1="409.9" x2="447.1" y2="411.7" stroke="#000" stroke-width="1.2"/>
<line x1="410.5" y1="409.9" x2="410.5" y2="411.7" stroke="#000" stroke-width="1.2"/>
<line x1="373.9" y1="409.9" x2="373.9" y2="411.7" stroke="#000" stroke-width="1.2"/>
<line x1="337.3" y1="409.9" x2="337.3" y2="411.7" stroke="#000" stroke-width="1.2"/>
<text x="428.9" y="446.8" font-size="14.9" class="t" text-anchor="middle" font-family="Liberation Sans, sans-serif" font-weight="bold">Binding Energy (eV)</text>
<text transform="translate(302,315.8) rotate(-90)" font-size="14.9" class="t" text-anchor="middle" font-family="Liberation Sans, sans-serif" font-weight="bold">Intensity (a.u.)</text>
<text x="324.2" y="248.4" font-size="11.8" font-family="Liberation Sans, sans-serif" font-weight="bold">(d)</text>
<text x="501" y="244.5" font-size="11.45" class="t" font-family="Liberation Sans, sans-serif" font-weight="bold">Mn 2p</text>
<text x="428.6" y="283.2" font-size="8.7" class="s" font-family="Liberation Sans, sans-serif" font-weight="bold">Mn 2p<tspan dy="3" font-size="8.7">3/2</tspan></text>
<text x="345.8" y="328.4" font-size="8.7" class="s" font-family="Liberation Sans, sans-serif" font-weight="bold">Mn 2p<tspan dy="3" font-size="8.7">1/2</tspan></text>
</svg>
</body></html>
